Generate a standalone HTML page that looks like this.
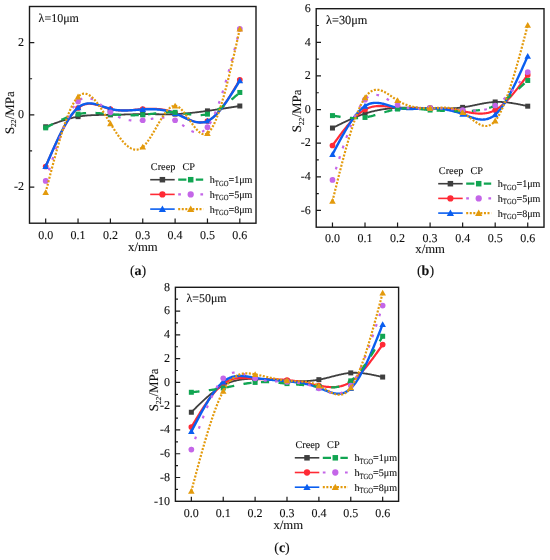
<!DOCTYPE html>
<html><head><meta charset="utf-8"><title>S22 stress plots</title>
<style>
html,body{margin:0;padding:0;background:#fff;}
body{width:550px;height:560px;overflow:hidden;}
svg{display:block;}
text{text-rendering:geometricPrecision;font-family:"Liberation Serif", "Times New Roman", serif;fill:#111;stroke:#111;stroke-width:0.1px;}
.tl{font-size:12px;}
.al{font-size:12.7px;}
.sub{font-size:7.6px;}
.yl{font-size:12.9px;}
.lg{font-size:10.3px;}
.lsub{font-size:7.9px;}
.lg2{font-size:10.1px;}
.cap{font-size:14px;}
</style></head>
<body>
<svg width="550" height="560" viewBox="0 0 550 560">
<rect width="550" height="560" fill="#fff"/>
<clipPath id="clipa"><rect x="29.5" y="6.5" width="226.5" height="216.7"/></clipPath>
<g clip-path="url(#clipa)" fill="none" stroke-linejoin="round">
<polyline points="45.68,126.77 46.49,126.46 47.30,126.15 48.11,125.85 48.91,125.54 49.72,125.24 50.53,124.93 51.34,124.63 52.15,124.33 52.96,124.03 53.77,123.73 54.58,123.43 55.39,123.14 56.19,122.85 57.00,122.56 57.81,122.27 58.62,121.99 59.43,121.71 60.24,121.44 61.05,121.16 61.86,120.90 62.67,120.63 63.48,120.37 64.28,120.12 65.09,119.87 65.90,119.62 66.71,119.38 67.52,119.14 68.33,118.91 69.14,118.69 69.95,118.47 70.76,118.26 71.56,118.05 72.37,117.85 73.18,117.66 73.99,117.47 74.80,117.29 75.61,117.12 76.42,116.96 77.23,116.80 78.04,116.66 78.84,116.52 79.65,116.38 80.46,116.26 81.27,116.14 82.08,116.03 82.89,115.93 83.70,115.83 84.51,115.74 85.32,115.66 86.12,115.58 86.93,115.51 87.74,115.45 88.55,115.39 89.36,115.33 90.17,115.28 90.98,115.23 91.79,115.19 92.60,115.15 93.41,115.12 94.21,115.09 95.02,115.06 95.83,115.03 96.64,115.01 97.45,114.99 98.26,114.98 99.07,114.96 99.88,114.95 100.69,114.94 101.49,114.93 102.30,114.92 103.11,114.91 103.92,114.91 104.73,114.90 105.54,114.90 106.35,114.89 107.16,114.88 107.97,114.88 108.77,114.87 109.58,114.86 110.39,114.85 111.20,114.84 112.01,114.83 112.82,114.81 113.63,114.80 114.44,114.78 115.25,114.76 116.06,114.74 116.86,114.72 117.67,114.70 118.48,114.68 119.29,114.66 120.10,114.64 120.91,114.62 121.72,114.59 122.53,114.57 123.34,114.55 124.14,114.52 124.95,114.50 125.76,114.47 126.57,114.45 127.38,114.43 128.19,114.40 129.00,114.38 129.81,114.36 130.62,114.34 131.42,114.31 132.23,114.29 133.04,114.27 133.85,114.25 134.66,114.24 135.47,114.22 136.28,114.20 137.09,114.19 137.90,114.18 138.71,114.16 139.51,114.15 140.32,114.14 141.13,114.14 141.94,114.13 142.75,114.13 143.56,114.13 144.37,114.13 145.18,114.13 145.99,114.13 146.79,114.13 147.60,114.14 148.41,114.15 149.22,114.15 150.03,114.16 150.84,114.17 151.65,114.18 152.46,114.19 153.27,114.20 154.07,114.21 154.88,114.22 155.69,114.23 156.50,114.24 157.31,114.25 158.12,114.26 158.93,114.27 159.74,114.28 160.55,114.29 161.36,114.30 162.16,114.30 162.97,114.31 163.78,114.31 164.59,114.31 165.40,114.31 166.21,114.31 167.02,114.30 167.83,114.30 168.64,114.29 169.44,114.28 170.25,114.26 171.06,114.25 171.87,114.23 172.68,114.21 173.49,114.19 174.30,114.16 175.11,114.13 175.92,114.09 176.72,114.06 177.53,114.02 178.34,113.97 179.15,113.93 179.96,113.88 180.77,113.83 181.58,113.77 182.39,113.71 183.20,113.65 184.01,113.59 184.81,113.52 185.62,113.45 186.43,113.38 187.24,113.31 188.05,113.23 188.86,113.15 189.67,113.07 190.48,112.99 191.29,112.91 192.09,112.82 192.90,112.73 193.71,112.64 194.52,112.55 195.33,112.45 196.14,112.36 196.95,112.26 197.76,112.16 198.57,112.06 199.38,111.96 200.18,111.86 200.99,111.75 201.80,111.65 202.61,111.54 203.42,111.43 204.23,111.32 205.04,111.21 205.85,111.10 206.66,110.99 207.46,110.88 208.27,110.76 209.08,110.65 209.89,110.54 210.70,110.42 211.51,110.31 212.32,110.19 213.13,110.07 213.94,109.95 214.74,109.84 215.55,109.72 216.36,109.60 217.17,109.48 217.98,109.36 218.79,109.24 219.60,109.12 220.41,109.00 221.22,108.88 222.03,108.75 222.83,108.63 223.64,108.51 224.45,108.38 225.26,108.26 226.07,108.14 226.88,108.01 227.69,107.89 228.50,107.76 229.31,107.64 230.11,107.51 230.92,107.39 231.73,107.26 232.54,107.14 233.35,107.01 234.16,106.89 234.97,106.76 235.78,106.63 236.59,106.51 237.39,106.38 238.20,106.25 239.01,106.13 239.82,106.00" stroke="#3f3f3f" stroke-width="1.8"/>
<rect x="43.18" y="124.27" width="5.00" height="5.00" fill="#3f3f3f"/>
<rect x="75.54" y="114.16" width="5.00" height="5.00" fill="#3f3f3f"/>
<rect x="107.89" y="112.35" width="5.00" height="5.00" fill="#3f3f3f"/>
<rect x="140.25" y="111.63" width="5.00" height="5.00" fill="#3f3f3f"/>
<rect x="172.61" y="111.63" width="5.00" height="5.00" fill="#3f3f3f"/>
<rect x="204.96" y="108.38" width="5.00" height="5.00" fill="#3f3f3f"/>
<rect x="237.32" y="103.50" width="5.00" height="5.00" fill="#3f3f3f"/>
<polyline points="45.68,166.50 46.49,164.63 47.30,162.77 48.11,160.91 48.91,159.06 49.72,157.21 50.53,155.37 51.34,153.54 52.15,151.72 52.96,149.91 53.77,148.11 54.58,146.33 55.39,144.57 56.19,142.82 57.00,141.09 57.81,139.39 58.62,137.70 59.43,136.05 60.24,134.41 61.05,132.81 61.86,131.23 62.67,129.68 63.48,128.16 64.28,126.68 65.09,125.23 65.90,123.82 66.71,122.45 67.52,121.11 68.33,119.81 69.14,118.56 69.95,117.35 70.76,116.19 71.56,115.07 72.37,114.00 73.18,112.98 73.99,112.01 74.80,111.10 75.61,110.23 76.42,109.43 77.23,108.68 78.04,107.99 78.84,107.36 79.65,106.78 80.46,106.27 81.27,105.81 82.08,105.40 82.89,105.04 83.70,104.73 84.51,104.46 85.32,104.24 86.12,104.07 86.93,103.93 87.74,103.83 88.55,103.77 89.36,103.75 90.17,103.76 90.98,103.80 91.79,103.86 92.60,103.96 93.41,104.08 94.21,104.23 95.02,104.39 95.83,104.58 96.64,104.78 97.45,105.00 98.26,105.23 99.07,105.48 99.88,105.73 100.69,106.00 101.49,106.27 102.30,106.54 103.11,106.81 103.92,107.09 104.73,107.36 105.54,107.63 106.35,107.90 107.16,108.16 107.97,108.40 108.77,108.64 109.58,108.86 110.39,109.07 111.20,109.26 112.01,109.44 112.82,109.60 113.63,109.74 114.44,109.87 115.25,109.98 116.06,110.08 116.86,110.17 117.67,110.24 118.48,110.30 119.29,110.35 120.10,110.39 120.91,110.42 121.72,110.44 122.53,110.45 123.34,110.45 124.14,110.44 124.95,110.42 125.76,110.39 126.57,110.36 127.38,110.32 128.19,110.28 129.00,110.23 129.81,110.17 130.62,110.11 131.42,110.05 132.23,109.98 133.04,109.92 133.85,109.84 134.66,109.77 135.47,109.70 136.28,109.62 137.09,109.55 137.90,109.47 138.71,109.40 139.51,109.33 140.32,109.26 141.13,109.19 141.94,109.13 142.75,109.07 143.56,109.02 144.37,108.96 145.18,108.92 145.99,108.88 146.79,108.84 147.60,108.81 148.41,108.79 149.22,108.77 150.03,108.76 150.84,108.75 151.65,108.75 152.46,108.76 153.27,108.78 154.07,108.80 154.88,108.83 155.69,108.87 156.50,108.92 157.31,108.98 158.12,109.05 158.93,109.12 159.74,109.21 160.55,109.31 161.36,109.41 162.16,109.53 162.97,109.66 163.78,109.79 164.59,109.94 165.40,110.11 166.21,110.28 167.02,110.46 167.83,110.66 168.64,110.87 169.44,111.10 170.25,111.33 171.06,111.58 171.87,111.85 172.68,112.12 173.49,112.42 174.30,112.72 175.11,113.04 175.92,113.38 176.72,113.73 177.53,114.09 178.34,114.46 179.15,114.85 179.96,115.23 180.77,115.63 181.58,116.02 182.39,116.42 183.20,116.82 184.01,117.22 184.81,117.62 185.62,118.01 186.43,118.39 187.24,118.77 188.05,119.14 188.86,119.50 189.67,119.84 190.48,120.17 191.29,120.49 192.09,120.79 192.90,121.06 193.71,121.32 194.52,121.56 195.33,121.77 196.14,121.96 196.95,122.12 197.76,122.25 198.57,122.35 199.38,122.42 200.18,122.45 200.99,122.45 201.80,122.42 202.61,122.34 203.42,122.23 204.23,122.07 205.04,121.87 205.85,121.62 206.66,121.33 207.46,120.99 208.27,120.60 209.08,120.16 209.89,119.68 210.70,119.14 211.51,118.57 212.32,117.95 213.13,117.29 213.94,116.58 214.74,115.84 215.55,115.06 216.36,114.24 217.17,113.38 217.98,112.49 218.79,111.57 219.60,110.61 220.41,109.62 221.22,108.61 222.03,107.56 222.83,106.49 223.64,105.39 224.45,104.26 225.26,103.11 226.07,101.94 226.88,100.75 227.69,99.54 228.50,98.31 229.31,97.06 230.11,95.80 230.92,94.52 231.73,93.22 232.54,91.92 233.35,90.60 234.16,89.28 234.97,87.94 235.78,86.60 236.59,85.25 237.39,83.90 238.20,82.54 239.01,81.18 239.82,79.82" stroke="#ff2a35" stroke-width="2.2"/>
<circle cx="45.68" cy="166.50" r="2.85" fill="#ff2a35"/>
<circle cx="78.04" cy="107.99" r="2.85" fill="#ff2a35"/>
<circle cx="110.39" cy="109.07" r="2.85" fill="#ff2a35"/>
<circle cx="142.75" cy="109.07" r="2.85" fill="#ff2a35"/>
<circle cx="175.11" cy="113.04" r="2.85" fill="#ff2a35"/>
<circle cx="207.46" cy="120.99" r="2.85" fill="#ff2a35"/>
<circle cx="239.82" cy="79.82" r="2.85" fill="#ff2a35"/>
<polyline points="45.68,166.50 46.49,164.62 47.30,162.75 48.11,160.88 48.91,159.01 49.72,157.15 50.53,155.30 51.34,153.45 52.15,151.62 52.96,149.80 53.77,147.99 54.58,146.20 55.39,144.43 56.19,142.67 57.00,140.93 57.81,139.22 58.62,137.52 59.43,135.85 60.24,134.21 61.05,132.59 61.86,131.01 62.67,129.45 63.48,127.92 64.28,126.43 65.09,124.97 65.90,123.55 66.71,122.17 67.52,120.82 68.33,119.52 69.14,118.26 69.95,117.04 70.76,115.87 71.56,114.75 72.37,113.67 73.18,112.65 73.99,111.67 74.80,110.75 75.61,109.89 76.42,109.07 77.23,108.32 78.04,107.63 78.84,106.99 79.65,106.42 80.46,105.90 81.27,105.43 82.08,105.02 82.89,104.66 83.70,104.35 84.51,104.09 85.32,103.87 86.12,103.69 86.93,103.56 87.74,103.46 88.55,103.40 89.36,103.38 90.17,103.39 90.98,103.43 91.79,103.50 92.60,103.60 93.41,103.73 94.21,103.88 95.02,104.05 95.83,104.24 96.64,104.45 97.45,104.67 98.26,104.91 99.07,105.17 99.88,105.43 100.69,105.70 101.49,105.97 102.30,106.26 103.11,106.54 103.92,106.82 104.73,107.11 105.54,107.39 106.35,107.66 107.16,107.93 107.97,108.19 108.77,108.44 109.58,108.67 110.39,108.89 111.20,109.09 112.01,109.28 112.82,109.45 113.63,109.61 114.44,109.75 115.25,109.88 116.06,109.99 116.86,110.09 117.67,110.18 118.48,110.26 119.29,110.32 120.10,110.38 120.91,110.42 121.72,110.45 122.53,110.47 123.34,110.49 124.14,110.49 124.95,110.49 125.76,110.48 126.57,110.46 127.38,110.44 128.19,110.41 129.00,110.37 129.81,110.33 130.62,110.29 131.42,110.24 132.23,110.19 133.04,110.13 133.85,110.08 134.66,110.02 135.47,109.96 136.28,109.89 137.09,109.83 137.90,109.77 138.71,109.71 139.51,109.65 140.32,109.59 141.13,109.54 141.94,109.48 142.75,109.43 143.56,109.39 144.37,109.34 145.18,109.31 145.99,109.27 146.79,109.24 147.60,109.22 148.41,109.20 149.22,109.19 150.03,109.18 150.84,109.18 151.65,109.19 152.46,109.20 153.27,109.22 154.07,109.25 154.88,109.28 155.69,109.33 156.50,109.38 157.31,109.44 158.12,109.51 158.93,109.58 159.74,109.67 160.55,109.76 161.36,109.87 162.16,109.98 162.97,110.11 163.78,110.24 164.59,110.39 165.40,110.55 166.21,110.72 167.02,110.90 167.83,111.09 168.64,111.30 169.44,111.51 170.25,111.74 171.06,111.99 171.87,112.24 172.68,112.51 173.49,112.80 174.30,113.09 175.11,113.41 175.92,113.73 176.72,114.07 177.53,114.42 178.34,114.78 179.15,115.15 179.96,115.53 180.77,115.91 181.58,116.29 182.39,116.68 183.20,117.07 184.01,117.45 184.81,117.83 185.62,118.21 186.43,118.58 187.24,118.95 188.05,119.30 188.86,119.65 189.67,119.98 190.48,120.30 191.29,120.60 192.09,120.89 192.90,121.16 193.71,121.41 194.52,121.63 195.33,121.83 196.14,122.01 196.95,122.16 197.76,122.29 198.57,122.38 199.38,122.44 200.18,122.47 200.99,122.46 201.80,122.42 202.61,122.34 203.42,122.22 204.23,122.07 205.04,121.86 205.85,121.62 206.66,121.33 207.46,120.99 208.27,120.60 209.08,120.17 209.89,119.69 210.70,119.16 211.51,118.60 212.32,117.98 213.13,117.33 213.94,116.64 214.74,115.91 215.55,115.14 216.36,114.33 217.17,113.49 217.98,112.61 218.79,111.71 219.60,110.77 220.41,109.80 221.22,108.80 222.03,107.77 222.83,106.71 223.64,105.63 224.45,104.53 225.26,103.40 226.07,102.25 226.88,101.08 227.69,99.89 228.50,98.68 229.31,97.46 230.11,96.22 230.92,94.96 231.73,93.69 232.54,92.41 233.35,91.12 234.16,89.82 234.97,88.51 235.78,87.19 236.59,85.87 237.39,84.54 238.20,83.21 239.01,81.87 239.82,80.54" stroke="#0a5ef0" stroke-width="2.4"/>
<polygon points="45.68,163.31 48.98,169.11 42.38,169.11" fill="#0a5ef0"/>
<polygon points="78.04,104.44 81.34,110.24 74.74,110.24" fill="#0a5ef0"/>
<polygon points="110.39,105.70 113.69,111.50 107.09,111.50" fill="#0a5ef0"/>
<polygon points="142.75,106.24 146.05,112.04 139.45,112.04" fill="#0a5ef0"/>
<polygon points="175.11,110.22 178.41,116.02 171.81,116.02" fill="#0a5ef0"/>
<polygon points="207.46,117.80 210.76,123.60 204.16,123.60" fill="#0a5ef0"/>
<polygon points="239.82,77.35 243.12,83.15 236.52,83.15" fill="#0a5ef0"/>
<polyline points="45.68,127.85 46.49,127.42 47.30,126.99 48.11,126.56 48.91,126.13 49.72,125.70 50.53,125.28 51.34,124.85 52.15,124.43 52.96,124.01 53.77,123.60 54.58,123.19 55.39,122.78 56.19,122.37 57.00,121.97 57.81,121.57 58.62,121.18 59.43,120.80 60.24,120.42 61.05,120.04 61.86,119.67 62.67,119.31 63.48,118.96 64.28,118.61 65.09,118.27 65.90,117.94 66.71,117.61 67.52,117.30 68.33,116.99 69.14,116.69 69.95,116.41 70.76,116.13 71.56,115.86 72.37,115.60 73.18,115.36 73.99,115.12 74.80,114.90 75.61,114.69 76.42,114.49 77.23,114.30 78.04,114.13 78.84,113.97 79.65,113.82 80.46,113.68 81.27,113.56 82.08,113.45 82.89,113.35 83.70,113.26 84.51,113.18 85.32,113.11 86.12,113.05 86.93,113.00 87.74,112.96 88.55,112.93 89.36,112.91 90.17,112.89 90.98,112.89 91.79,112.89 92.60,112.90 93.41,112.91 94.21,112.93 95.02,112.96 95.83,112.99 96.64,113.03 97.45,113.07 98.26,113.12 99.07,113.17 99.88,113.22 100.69,113.28 101.49,113.34 102.30,113.41 103.11,113.48 103.92,113.55 104.73,113.62 105.54,113.69 106.35,113.76 107.16,113.83 107.97,113.91 108.77,113.98 109.58,114.06 110.39,114.13 111.20,114.20 112.01,114.27 112.82,114.34 113.63,114.40 114.44,114.47 115.25,114.53 116.06,114.59 116.86,114.65 117.67,114.71 118.48,114.77 119.29,114.82 120.10,114.87 120.91,114.92 121.72,114.97 122.53,115.01 123.34,115.05 124.14,115.08 124.95,115.12 125.76,115.15 126.57,115.18 127.38,115.20 128.19,115.22 129.00,115.24 129.81,115.25 130.62,115.26 131.42,115.26 132.23,115.26 133.04,115.26 133.85,115.25 134.66,115.24 135.47,115.22 136.28,115.20 137.09,115.18 137.90,115.15 138.71,115.11 139.51,115.07 140.32,115.02 141.13,114.97 141.94,114.91 142.75,114.85 143.56,114.78 144.37,114.71 145.18,114.63 145.99,114.55 146.79,114.46 147.60,114.37 148.41,114.28 149.22,114.18 150.03,114.08 150.84,113.98 151.65,113.88 152.46,113.78 153.27,113.68 154.07,113.57 154.88,113.47 155.69,113.37 156.50,113.27 157.31,113.17 158.12,113.08 158.93,112.98 159.74,112.89 160.55,112.80 161.36,112.72 162.16,112.64 162.97,112.57 163.78,112.50 164.59,112.44 165.40,112.38 166.21,112.33 167.02,112.28 167.83,112.25 168.64,112.22 169.44,112.20 170.25,112.19 171.06,112.18 171.87,112.19 172.68,112.21 173.49,112.23 174.30,112.27 175.11,112.32 175.92,112.38 176.72,112.45 177.53,112.54 178.34,112.63 179.15,112.73 179.96,112.83 180.77,112.94 181.58,113.06 182.39,113.18 183.20,113.31 184.01,113.43 184.81,113.56 185.62,113.69 186.43,113.82 187.24,113.95 188.05,114.08 188.86,114.20 189.67,114.32 190.48,114.44 191.29,114.55 192.09,114.65 192.90,114.74 193.71,114.83 194.52,114.91 195.33,114.98 196.14,115.03 196.95,115.08 197.76,115.11 198.57,115.12 199.38,115.13 200.18,115.11 200.99,115.08 201.80,115.03 202.61,114.97 203.42,114.88 204.23,114.77 205.04,114.65 205.85,114.50 206.66,114.32 207.46,114.13 208.27,113.91 209.08,113.66 209.89,113.39 210.70,113.10 211.51,112.78 212.32,112.45 213.13,112.09 213.94,111.71 214.74,111.31 215.55,110.89 216.36,110.46 217.17,110.00 217.98,109.53 218.79,109.04 219.60,108.53 220.41,108.01 221.22,107.48 222.03,106.93 222.83,106.36 223.64,105.79 224.45,105.20 225.26,104.60 226.07,103.98 226.88,103.36 227.69,102.73 228.50,102.08 229.31,101.43 230.11,100.77 230.92,100.11 231.73,99.43 232.54,98.75 233.35,98.07 234.16,97.38 234.97,96.68 235.78,95.98 236.59,95.28 237.39,94.58 238.20,93.87 239.01,93.17 239.82,92.46" stroke="#11a552" stroke-width="2.3" stroke-dasharray="8.2 9.4"/>
<rect x="43.18" y="125.35" width="5.00" height="5.00" fill="#11a552"/>
<rect x="75.54" y="111.63" width="5.00" height="5.00" fill="#11a552"/>
<rect x="107.89" y="111.63" width="5.00" height="5.00" fill="#11a552"/>
<rect x="140.25" y="112.35" width="5.00" height="5.00" fill="#11a552"/>
<rect x="172.61" y="109.82" width="5.00" height="5.00" fill="#11a552"/>
<rect x="204.96" y="111.63" width="5.00" height="5.00" fill="#11a552"/>
<rect x="237.32" y="89.96" width="5.00" height="5.00" fill="#11a552"/>
<polyline points="45.68,180.94 46.49,178.36 47.30,175.77 48.11,173.19 48.91,170.61 49.72,168.05 50.53,165.49 51.34,162.95 52.15,160.43 52.96,157.92 53.77,155.44 54.58,152.97 55.39,150.53 56.19,148.12 57.00,145.74 57.81,143.39 58.62,141.07 59.43,138.79 60.24,136.55 61.05,134.34 61.86,132.19 62.67,130.07 63.48,128.01 64.28,125.99 65.09,124.02 65.90,122.11 66.71,120.26 67.52,118.46 68.33,116.73 69.14,115.06 69.95,113.45 70.76,111.91 71.56,110.44 72.37,109.05 73.18,107.73 73.99,106.48 74.80,105.32 75.61,104.23 76.42,103.23 77.23,102.31 78.04,101.49 78.84,100.75 79.65,100.10 80.46,99.53 81.27,99.05 82.08,98.64 82.89,98.32 83.70,98.06 84.51,97.88 85.32,97.76 86.12,97.71 86.93,97.72 87.74,97.79 88.55,97.91 89.36,98.09 90.17,98.32 90.98,98.60 91.79,98.92 92.60,99.29 93.41,99.69 94.21,100.13 95.02,100.61 95.83,101.11 96.64,101.65 97.45,102.21 98.26,102.79 99.07,103.39 99.88,104.01 100.69,104.65 101.49,105.29 102.30,105.95 103.11,106.60 103.92,107.27 104.73,107.93 105.54,108.59 106.35,109.24 107.16,109.88 107.97,110.52 108.77,111.14 109.58,111.74 110.39,112.32 111.20,112.88 112.01,113.42 112.82,113.94 113.63,114.43 114.44,114.90 115.25,115.36 116.06,115.79 116.86,116.20 117.67,116.59 118.48,116.96 119.29,117.31 120.10,117.64 120.91,117.95 121.72,118.25 122.53,118.52 123.34,118.78 124.14,119.02 124.95,119.24 125.76,119.45 126.57,119.63 127.38,119.80 128.19,119.96 129.00,120.10 129.81,120.22 130.62,120.33 131.42,120.42 132.23,120.49 133.04,120.56 133.85,120.60 134.66,120.64 135.47,120.66 136.28,120.66 137.09,120.66 137.90,120.64 138.71,120.61 139.51,120.56 140.32,120.51 141.13,120.44 141.94,120.36 142.75,120.27 143.56,120.17 144.37,120.06 145.18,119.94 145.99,119.81 146.79,119.68 147.60,119.54 148.41,119.40 149.22,119.25 150.03,119.11 150.84,118.96 151.65,118.82 152.46,118.67 153.27,118.53 154.07,118.40 154.88,118.27 155.69,118.15 156.50,118.03 157.31,117.93 158.12,117.83 158.93,117.75 159.74,117.67 160.55,117.62 161.36,117.57 162.16,117.55 162.97,117.54 163.78,117.55 164.59,117.58 165.40,117.63 166.21,117.70 167.02,117.79 167.83,117.91 168.64,118.05 169.44,118.23 170.25,118.42 171.06,118.65 171.87,118.91 172.68,119.20 173.49,119.52 174.30,119.88 175.11,120.27 175.92,120.69 176.72,121.15 177.53,121.64 178.34,122.15 179.15,122.68 179.96,123.24 180.77,123.80 181.58,124.38 182.39,124.96 183.20,125.55 184.01,126.14 184.81,126.73 185.62,127.30 186.43,127.87 187.24,128.42 188.05,128.96 188.86,129.47 189.67,129.96 190.48,130.42 191.29,130.85 192.09,131.24 192.90,131.60 193.71,131.91 194.52,132.17 195.33,132.38 196.14,132.54 196.95,132.64 197.76,132.69 198.57,132.66 199.38,132.57 200.18,132.41 200.99,132.17 201.80,131.86 202.61,131.46 203.42,130.97 204.23,130.40 205.04,129.73 205.85,128.96 206.66,128.10 207.46,127.13 208.27,126.05 209.08,124.87 209.89,123.59 210.70,122.21 211.51,120.73 212.32,119.16 213.13,117.49 213.94,115.74 214.74,113.90 215.55,111.98 216.36,109.98 217.17,107.90 217.98,105.74 218.79,103.51 219.60,101.21 220.41,98.85 221.22,96.42 222.03,93.92 222.83,91.37 223.64,88.76 224.45,86.10 225.26,83.39 226.07,80.63 226.88,77.82 227.69,74.97 228.50,72.08 229.31,69.15 230.11,66.19 230.92,63.20 231.73,60.17 232.54,57.12 233.35,54.05 234.16,50.95 234.97,47.83 235.78,44.70 236.59,41.56 237.39,38.40 238.20,35.23 239.01,32.06 239.82,28.89" stroke="#c466e8" stroke-width="2.2" stroke-dasharray="2.7 8.4"/>
<circle cx="45.68" cy="180.94" r="2.85" fill="#c466e8"/>
<circle cx="78.04" cy="101.49" r="2.85" fill="#c466e8"/>
<circle cx="110.39" cy="112.32" r="2.85" fill="#c466e8"/>
<circle cx="142.75" cy="120.27" r="2.85" fill="#c466e8"/>
<circle cx="175.11" cy="120.27" r="2.85" fill="#c466e8"/>
<circle cx="207.46" cy="127.13" r="2.85" fill="#c466e8"/>
<circle cx="239.82" cy="28.89" r="2.85" fill="#c466e8"/>
<polyline points="45.68,192.50 46.49,189.33 47.30,186.16 48.11,182.99 48.91,179.83 49.72,176.69 50.53,173.56 51.34,170.45 52.15,167.35 52.96,164.29 53.77,161.24 54.58,158.23 55.39,155.25 56.19,152.30 57.00,149.40 57.81,146.53 58.62,143.71 59.43,140.93 60.24,138.21 61.05,135.53 61.86,132.92 62.67,130.36 63.48,127.86 64.28,125.43 65.09,123.07 65.90,120.77 66.71,118.55 67.52,116.40 68.33,114.34 69.14,112.36 69.95,110.46 70.76,108.65 71.56,106.93 72.37,105.30 73.18,103.77 73.99,102.34 74.80,101.01 75.61,99.79 76.42,98.68 77.23,97.68 78.04,96.79 78.84,96.02 79.65,95.36 80.46,94.82 81.27,94.38 82.08,94.05 82.89,93.81 83.70,93.68 84.51,93.64 85.32,93.69 86.12,93.84 86.93,94.06 87.74,94.37 88.55,94.76 89.36,95.22 90.17,95.76 90.98,96.37 91.79,97.04 92.60,97.78 93.41,98.57 94.21,99.43 95.02,100.33 95.83,101.29 96.64,102.29 97.45,103.34 98.26,104.43 99.07,105.56 99.88,106.72 100.69,107.91 101.49,109.14 102.30,110.38 103.11,111.65 103.92,112.94 104.73,114.24 105.54,115.55 106.35,116.88 107.16,118.21 107.97,119.54 108.77,120.87 109.58,122.20 110.39,123.52 111.20,124.83 112.01,126.13 112.82,127.41 113.63,128.68 114.44,129.94 115.25,131.17 116.06,132.38 116.86,133.56 117.67,134.72 118.48,135.85 119.29,136.96 120.10,138.03 120.91,139.06 121.72,140.06 122.53,141.03 123.34,141.95 124.14,142.83 124.95,143.67 125.76,144.46 126.57,145.20 127.38,145.90 128.19,146.54 129.00,147.13 129.81,147.66 130.62,148.14 131.42,148.55 132.23,148.91 133.04,149.20 133.85,149.42 134.66,149.58 135.47,149.67 136.28,149.68 137.09,149.62 137.90,149.49 138.71,149.28 139.51,148.99 140.32,148.62 141.13,148.16 141.94,147.62 142.75,146.99 143.56,146.28 144.37,145.48 145.18,144.60 145.99,143.64 146.79,142.62 147.60,141.54 148.41,140.40 149.22,139.21 150.03,137.97 150.84,136.69 151.65,135.37 152.46,134.03 153.27,132.66 154.07,131.27 154.88,129.86 155.69,128.45 156.50,127.03 157.31,125.61 158.12,124.21 158.93,122.81 159.74,121.43 160.55,120.08 161.36,118.75 162.16,117.46 162.97,116.21 163.78,115.00 164.59,113.85 165.40,112.74 166.21,111.70 167.02,110.73 167.83,109.83 168.64,109.00 169.44,108.26 170.25,107.61 171.06,107.04 171.87,106.58 172.68,106.22 173.49,105.97 174.30,105.84 175.11,105.82 175.92,105.93 176.72,106.16 177.53,106.49 178.34,106.94 179.15,107.48 179.96,108.11 180.77,108.82 181.58,109.61 182.39,110.47 183.20,111.39 184.01,112.37 184.81,113.39 185.62,114.46 186.43,115.56 187.24,116.69 188.05,117.84 188.86,119.00 189.67,120.17 190.48,121.34 191.29,122.50 192.09,123.64 192.90,124.76 193.71,125.86 194.52,126.92 195.33,127.93 196.14,128.90 196.95,129.81 197.76,130.65 198.57,131.43 199.38,132.13 200.18,132.74 200.99,133.26 201.80,133.68 202.61,133.99 203.42,134.20 204.23,134.28 205.04,134.23 205.85,134.06 206.66,133.74 207.46,133.27 208.27,132.65 209.08,131.88 209.89,130.96 210.70,129.90 211.51,128.70 212.32,127.36 213.13,125.89 213.94,124.29 214.74,122.57 215.55,120.73 216.36,118.78 217.17,116.71 217.98,114.53 218.79,112.25 219.60,109.86 220.41,107.39 221.22,104.81 222.03,102.15 222.83,99.40 223.64,96.58 224.45,93.67 225.26,90.69 226.07,87.64 226.88,84.53 227.69,81.35 228.50,78.11 229.31,74.83 230.11,71.49 230.92,68.10 231.73,64.67 232.54,61.20 233.35,57.70 234.16,54.17 234.97,50.61 235.78,47.02 236.59,43.42 237.39,39.80 238.20,36.17 239.01,32.53 239.82,28.89" stroke="#e39a0c" stroke-width="2.2" stroke-dasharray="2 1.55"/>
<polygon points="45.68,189.31 48.98,195.11 42.38,195.11" fill="#e39a0c"/>
<polygon points="78.04,93.60 81.34,99.40 74.74,99.40" fill="#e39a0c"/>
<polygon points="110.39,120.33 113.69,126.13 107.09,126.13" fill="#e39a0c"/>
<polygon points="142.75,143.80 146.05,149.60 139.45,149.60" fill="#e39a0c"/>
<polygon points="175.11,102.63 178.41,108.43 171.81,108.43" fill="#e39a0c"/>
<polygon points="207.46,130.08 210.76,135.88 204.16,135.88" fill="#e39a0c"/>
<polygon points="239.82,25.70 243.12,31.50 236.52,31.50" fill="#e39a0c"/>
</g>
<rect x="29.5" y="6.5" width="226.5" height="216.7" fill="none" stroke="#1a1a1a" stroke-width="1.4"/>
<path d="M45.68,223.20v-4.6M78.04,223.20v-4.6M110.39,223.20v-4.6M142.75,223.20v-4.6M175.11,223.20v-4.6M207.46,223.20v-4.6M239.82,223.20v-4.6M29.50,187.08h4.8M29.50,114.85h4.8M29.50,42.62h4.8M29.50,150.97h2.6M29.50,78.73h2.6" stroke="#1a1a1a" stroke-width="1.2" fill="none"/>
<text x="45.68" y="239.10" text-anchor="middle" class="tl">0.0</text>
<text x="78.04" y="239.10" text-anchor="middle" class="tl">0.1</text>
<text x="110.39" y="239.10" text-anchor="middle" class="tl">0.2</text>
<text x="142.75" y="239.10" text-anchor="middle" class="tl">0.3</text>
<text x="175.11" y="239.10" text-anchor="middle" class="tl">0.4</text>
<text x="207.46" y="239.10" text-anchor="middle" class="tl">0.5</text>
<text x="239.82" y="239.10" text-anchor="middle" class="tl">0.6</text>
<text x="24.00" y="190.38" text-anchor="end" class="tl">-2</text>
<text x="24.00" y="118.15" text-anchor="end" class="tl">0</text>
<text x="24.00" y="45.92" text-anchor="end" class="tl">2</text>
<text x="142.90" y="251.20" text-anchor="middle" class="al">x/mm</text>
<text transform="translate(13.80,112.75) rotate(-90)" text-anchor="middle" class="yl">S<tspan class="sub" dy="2.6">22</tspan><tspan dy="-2.6">/MPa</tspan></text>
<text x="38.60" y="21.80" class="lam" font-size="12.0">λ=10μm</text>
<text x="150.80" y="170.30" class="lg">Creep</text>
<text x="182.50" y="170.30" class="lg">CP</text>
<line x1="150.20" y1="179.70" x2="174.70" y2="179.70" stroke="#3f3f3f" stroke-width="1.6"/>
<rect x="159.65" y="176.95" width="5.50" height="5.50" fill="#3f3f3f"/>
<line x1="178.20" y1="179.70" x2="203.20" y2="179.70" stroke="#11a552" stroke-width="2.3" stroke-dasharray="8.2 9.4"/>
<rect x="187.95" y="176.95" width="5.50" height="5.50" fill="#11a552"/>
<text x="209.80" y="183.10" class="lg2">h<tspan class="lsub" dy="2.6" textLength="13.6" lengthAdjust="spacingAndGlyphs">TGO</tspan><tspan dy="-2.6">=1μm</tspan></text>
<line x1="150.20" y1="194.40" x2="174.70" y2="194.40" stroke="#ff2a35" stroke-width="1.6"/>
<circle cx="162.40" cy="194.40" r="3.14" fill="#ff2a35"/>
<line x1="178.20" y1="194.40" x2="203.20" y2="194.40" stroke="#c466e8" stroke-width="2.2" stroke-dasharray="2.7 8.4"/>
<circle cx="190.70" cy="194.40" r="3.14" fill="#c466e8"/>
<text x="209.80" y="197.80" class="lg2">h<tspan class="lsub" dy="2.6" textLength="13.6" lengthAdjust="spacingAndGlyphs">TGO</tspan><tspan dy="-2.6">=5μm</tspan></text>
<line x1="150.20" y1="209.10" x2="174.70" y2="209.10" stroke="#0a5ef0" stroke-width="1.6"/>
<polygon points="162.40,205.59 166.03,211.97 158.77,211.97" fill="#0a5ef0"/>
<line x1="178.20" y1="209.10" x2="203.20" y2="209.10" stroke="#e39a0c" stroke-width="2.2" stroke-dasharray="2 1.55"/>
<polygon points="190.70,205.59 194.33,211.97 187.07,211.97" fill="#e39a0c"/>
<text x="209.80" y="212.50" class="lg2">h<tspan class="lsub" dy="2.6" textLength="13.6" lengthAdjust="spacingAndGlyphs">TGO</tspan><tspan dy="-2.6">=8μm</tspan></text>
<text x="138.10" y="274.60" text-anchor="middle" class="cap">(<tspan font-weight="bold">a</tspan>)</text>
<clipPath id="clipb"><rect x="316.2" y="8.7" width="227.8" height="218.5"/></clipPath>
<g clip-path="url(#clipb)" fill="none" stroke-linejoin="round">
<polyline points="332.47,128.03 333.28,127.63 334.10,127.22 334.91,126.81 335.73,126.40 336.54,125.99 337.35,125.58 338.17,125.18 338.98,124.77 339.79,124.37 340.61,123.97 341.42,123.57 342.23,123.17 343.05,122.78 343.86,122.39 344.68,122.00 345.49,121.61 346.30,121.22 347.12,120.84 347.93,120.46 348.74,120.09 349.56,119.72 350.37,119.35 351.18,118.98 352.00,118.62 352.81,118.27 353.62,117.92 354.44,117.57 355.25,117.23 356.06,116.89 356.88,116.56 357.69,116.24 358.51,115.92 359.32,115.60 360.13,115.30 360.95,114.99 361.76,114.70 362.57,114.41 363.39,114.12 364.20,113.85 365.01,113.58 365.83,113.32 366.64,113.06 367.45,112.82 368.27,112.58 369.08,112.34 369.90,112.11 370.71,111.89 371.52,111.68 372.34,111.47 373.15,111.27 373.96,111.08 374.78,110.89 375.59,110.71 376.40,110.53 377.22,110.36 378.03,110.20 378.84,110.04 379.66,109.89 380.47,109.75 381.29,109.61 382.10,109.47 382.91,109.34 383.73,109.22 384.54,109.10 385.35,108.99 386.17,108.88 386.98,108.78 387.79,108.68 388.61,108.58 389.42,108.50 390.24,108.41 391.05,108.33 391.86,108.26 392.68,108.19 393.49,108.13 394.30,108.07 395.12,108.01 395.93,107.96 396.74,107.91 397.56,107.87 398.37,107.83 399.18,107.79 400.00,107.76 400.81,107.73 401.62,107.70 402.44,107.68 403.25,107.66 404.07,107.65 404.88,107.64 405.69,107.63 406.51,107.62 407.32,107.62 408.13,107.62 408.95,107.62 409.76,107.62 410.57,107.63 411.39,107.64 412.20,107.65 413.01,107.66 413.83,107.68 414.64,107.69 415.46,107.71 416.27,107.73 417.08,107.75 417.90,107.77 418.71,107.80 419.52,107.82 420.34,107.85 421.15,107.88 421.96,107.90 422.78,107.93 423.59,107.96 424.40,107.99 425.22,108.02 426.03,108.05 426.85,108.08 427.66,108.11 428.47,108.14 429.29,108.17 430.10,108.20 430.91,108.23 431.73,108.26 432.54,108.29 433.35,108.32 434.17,108.34 434.98,108.37 435.79,108.39 436.61,108.41 437.42,108.43 438.24,108.45 439.05,108.47 439.86,108.48 440.68,108.50 441.49,108.51 442.30,108.51 443.12,108.52 443.93,108.52 444.74,108.52 445.56,108.51 446.37,108.50 447.18,108.49 448.00,108.48 448.81,108.46 449.63,108.43 450.44,108.40 451.25,108.37 452.07,108.33 452.88,108.29 453.69,108.24 454.51,108.19 455.32,108.14 456.13,108.07 456.95,108.01 457.76,107.93 458.57,107.85 459.39,107.77 460.20,107.68 461.02,107.58 461.83,107.47 462.64,107.36 463.46,107.24 464.27,107.12 465.08,106.99 465.90,106.85 466.71,106.71 467.52,106.57 468.34,106.42 469.15,106.26 469.96,106.11 470.78,105.95 471.59,105.78 472.41,105.62 473.22,105.45 474.03,105.29 474.85,105.12 475.66,104.95 476.47,104.78 477.29,104.62 478.10,104.45 478.91,104.29 479.73,104.12 480.54,103.96 481.36,103.81 482.17,103.65 482.98,103.50 483.80,103.35 484.61,103.21 485.42,103.08 486.24,102.94 487.05,102.82 487.86,102.70 488.68,102.59 489.49,102.48 490.30,102.38 491.12,102.29 491.93,102.21 492.75,102.14 493.56,102.08 494.37,102.03 495.19,101.98 496.00,101.95 496.81,101.93 497.63,101.92 498.44,101.92 499.25,101.92 500.07,101.94 500.88,101.97 501.69,102.00 502.51,102.05 503.32,102.10 504.13,102.16 504.95,102.23 505.76,102.30 506.58,102.38 507.39,102.47 508.20,102.57 509.02,102.67 509.83,102.78 510.64,102.89 511.46,103.01 512.27,103.14 513.08,103.27 513.90,103.41 514.71,103.55 515.52,103.69 516.34,103.84 517.15,103.99 517.97,104.15 518.78,104.30 519.59,104.47 520.41,104.63 521.22,104.80 522.03,104.97 522.85,105.14 523.66,105.31 524.47,105.48 525.29,105.66 526.10,105.83 526.91,106.01 527.73,106.18" stroke="#3f3f3f" stroke-width="1.8"/>
<rect x="329.97" y="125.53" width="5.00" height="5.00" fill="#3f3f3f"/>
<rect x="362.51" y="111.08" width="5.00" height="5.00" fill="#3f3f3f"/>
<rect x="395.06" y="105.37" width="5.00" height="5.00" fill="#3f3f3f"/>
<rect x="427.60" y="105.70" width="5.00" height="5.00" fill="#3f3f3f"/>
<rect x="460.14" y="104.86" width="5.00" height="5.00" fill="#3f3f3f"/>
<rect x="492.69" y="99.48" width="5.00" height="5.00" fill="#3f3f3f"/>
<rect x="525.23" y="103.68" width="5.00" height="5.00" fill="#3f3f3f"/>
<polyline points="332.47,145.51 333.28,144.39 334.10,143.26 334.91,142.14 335.73,141.02 336.54,139.90 337.35,138.79 338.17,137.68 338.98,136.58 339.79,135.48 340.61,134.40 341.42,133.32 342.23,132.25 343.05,131.19 343.86,130.14 344.68,129.10 345.49,128.08 346.30,127.07 347.12,126.07 347.93,125.09 348.74,124.13 349.56,123.18 350.37,122.25 351.18,121.34 352.00,120.45 352.81,119.58 353.62,118.73 354.44,117.90 355.25,117.10 356.06,116.32 356.88,115.56 357.69,114.83 358.51,114.13 359.32,113.45 360.13,112.80 360.95,112.18 361.76,111.59 362.57,111.03 363.39,110.50 364.20,110.01 365.01,109.55 365.83,109.12 366.64,108.72 367.45,108.36 368.27,108.02 369.08,107.72 369.90,107.45 370.71,107.20 371.52,106.98 372.34,106.79 373.15,106.62 373.96,106.47 374.78,106.35 375.59,106.25 376.40,106.17 377.22,106.11 378.03,106.06 378.84,106.04 379.66,106.03 380.47,106.03 381.29,106.05 382.10,106.09 382.91,106.13 383.73,106.19 384.54,106.26 385.35,106.33 386.17,106.42 386.98,106.51 387.79,106.61 388.61,106.71 389.42,106.82 390.24,106.93 391.05,107.04 391.86,107.15 392.68,107.26 393.49,107.37 394.30,107.48 395.12,107.58 395.93,107.68 396.74,107.78 397.56,107.87 398.37,107.95 399.18,108.02 400.00,108.09 400.81,108.15 401.62,108.20 402.44,108.25 403.25,108.29 404.07,108.33 404.88,108.36 405.69,108.38 406.51,108.40 407.32,108.42 408.13,108.43 408.95,108.44 409.76,108.45 410.57,108.45 411.39,108.45 412.20,108.44 413.01,108.44 413.83,108.43 414.64,108.42 415.46,108.40 416.27,108.39 417.08,108.37 417.90,108.36 418.71,108.34 419.52,108.32 420.34,108.31 421.15,108.29 421.96,108.27 422.78,108.26 423.59,108.24 424.40,108.23 425.22,108.22 426.03,108.21 426.85,108.20 427.66,108.20 428.47,108.20 429.29,108.20 430.10,108.20 430.91,108.21 431.73,108.22 432.54,108.24 433.35,108.25 434.17,108.28 434.98,108.30 435.79,108.33 436.61,108.36 437.42,108.40 438.24,108.44 439.05,108.48 439.86,108.53 440.68,108.58 441.49,108.63 442.30,108.69 443.12,108.75 443.93,108.81 444.74,108.88 445.56,108.95 446.37,109.02 447.18,109.10 448.00,109.18 448.81,109.27 449.63,109.36 450.44,109.45 451.25,109.54 452.07,109.64 452.88,109.74 453.69,109.85 454.51,109.96 455.32,110.07 456.13,110.18 456.95,110.30 457.76,110.42 458.57,110.55 459.39,110.68 460.20,110.81 461.02,110.95 461.83,111.08 462.64,111.23 463.46,111.37 464.27,111.52 465.08,111.67 465.90,111.82 466.71,111.97 467.52,112.12 468.34,112.26 469.15,112.41 469.96,112.55 470.78,112.68 471.59,112.81 472.41,112.93 473.22,113.05 474.03,113.16 474.85,113.25 475.66,113.34 476.47,113.42 477.29,113.48 478.10,113.53 478.91,113.57 479.73,113.59 480.54,113.60 481.36,113.59 482.17,113.57 482.98,113.52 483.80,113.46 484.61,113.37 485.42,113.27 486.24,113.14 487.05,112.99 487.86,112.82 488.68,112.62 489.49,112.40 490.30,112.15 491.12,111.87 491.93,111.57 492.75,111.24 493.56,110.87 494.37,110.48 495.19,110.05 496.00,109.59 496.81,109.10 497.63,108.58 498.44,108.03 499.25,107.45 500.07,106.84 500.88,106.20 501.69,105.53 502.51,104.84 503.32,104.13 504.13,103.39 504.95,102.62 505.76,101.83 506.58,101.03 507.39,100.19 508.20,99.34 509.02,98.47 509.83,97.58 510.64,96.68 511.46,95.75 512.27,94.81 513.08,93.86 513.90,92.88 514.71,91.90 515.52,90.90 516.34,89.89 517.15,88.87 517.97,87.84 518.78,86.80 519.59,85.75 520.41,84.69 521.22,83.62 522.03,82.55 522.85,81.47 523.66,80.39 524.47,79.30 525.29,78.21 526.10,77.11 526.91,76.02 527.73,74.92" stroke="#ff2a35" stroke-width="2.2"/>
<circle cx="332.47" cy="145.51" r="2.85" fill="#ff2a35"/>
<circle cx="365.01" cy="109.55" r="2.85" fill="#ff2a35"/>
<circle cx="397.56" cy="107.87" r="2.85" fill="#ff2a35"/>
<circle cx="430.10" cy="108.20" r="2.85" fill="#ff2a35"/>
<circle cx="462.64" cy="111.23" r="2.85" fill="#ff2a35"/>
<circle cx="495.19" cy="110.05" r="2.85" fill="#ff2a35"/>
<circle cx="527.73" cy="74.92" r="2.85" fill="#ff2a35"/>
<polyline points="332.47,154.42 333.28,152.87 334.10,151.32 334.91,149.78 335.73,148.23 336.54,146.69 337.35,145.16 338.17,143.64 338.98,142.12 339.79,140.62 340.61,139.13 341.42,137.65 342.23,136.18 343.05,134.73 343.86,133.29 344.68,131.88 345.49,130.48 346.30,129.10 347.12,127.75 347.93,126.42 348.74,125.11 349.56,123.82 350.37,122.57 351.18,121.34 352.00,120.14 352.81,118.98 353.62,117.84 354.44,116.74 355.25,115.67 356.06,114.64 356.88,113.64 357.69,112.69 358.51,111.77 359.32,110.90 360.13,110.06 360.95,109.27 361.76,108.53 362.57,107.83 363.39,107.17 364.20,106.57 365.01,106.02 365.83,105.51 366.64,105.06 367.45,104.65 368.27,104.29 369.08,103.98 369.90,103.71 370.71,103.47 371.52,103.28 372.34,103.13 373.15,103.01 373.96,102.92 374.78,102.87 375.59,102.85 376.40,102.86 377.22,102.90 378.03,102.96 378.84,103.04 379.66,103.15 380.47,103.28 381.29,103.43 382.10,103.60 382.91,103.78 383.73,103.98 384.54,104.19 385.35,104.41 386.17,104.64 386.98,104.87 387.79,105.12 388.61,105.36 389.42,105.61 390.24,105.86 391.05,106.11 391.86,106.36 392.68,106.60 393.49,106.83 394.30,107.06 395.12,107.28 395.93,107.49 396.74,107.68 397.56,107.87 398.37,108.03 399.18,108.18 400.00,108.32 400.81,108.44 401.62,108.54 402.44,108.64 403.25,108.72 404.07,108.79 404.88,108.85 405.69,108.89 406.51,108.93 407.32,108.96 408.13,108.98 408.95,108.99 409.76,108.99 410.57,108.98 411.39,108.97 412.20,108.95 413.01,108.93 413.83,108.90 414.64,108.87 415.46,108.83 416.27,108.79 417.08,108.75 417.90,108.71 418.71,108.66 419.52,108.61 420.34,108.57 421.15,108.52 421.96,108.48 422.78,108.43 423.59,108.39 424.40,108.35 425.22,108.32 426.03,108.28 426.85,108.26 427.66,108.23 428.47,108.22 429.29,108.21 430.10,108.20 430.91,108.20 431.73,108.22 432.54,108.23 433.35,108.26 434.17,108.29 434.98,108.33 435.79,108.38 436.61,108.43 437.42,108.50 438.24,108.57 439.05,108.64 439.86,108.73 440.68,108.82 441.49,108.92 442.30,109.02 443.12,109.14 443.93,109.26 444.74,109.39 445.56,109.52 446.37,109.67 447.18,109.82 448.00,109.98 448.81,110.14 449.63,110.31 450.44,110.49 451.25,110.68 452.07,110.88 452.88,111.08 453.69,111.29 454.51,111.51 455.32,111.73 456.13,111.96 456.95,112.20 457.76,112.45 458.57,112.70 459.39,112.96 460.20,113.23 461.02,113.51 461.83,113.79 462.64,114.08 463.46,114.38 464.27,114.69 465.08,114.99 465.90,115.31 466.71,115.62 467.52,115.93 468.34,116.24 469.15,116.54 469.96,116.84 470.78,117.13 471.59,117.42 472.41,117.69 473.22,117.95 474.03,118.20 474.85,118.43 475.66,118.65 476.47,118.85 477.29,119.02 478.10,119.18 478.91,119.31 479.73,119.42 480.54,119.50 481.36,119.55 482.17,119.58 482.98,119.57 483.80,119.53 484.61,119.45 485.42,119.34 486.24,119.19 487.05,119.00 487.86,118.77 488.68,118.50 489.49,118.18 490.30,117.82 491.12,117.41 491.93,116.95 492.75,116.44 493.56,115.88 494.37,115.26 495.19,114.59 496.00,113.86 496.81,113.08 497.63,112.24 498.44,111.35 499.25,110.40 500.07,109.41 500.88,108.37 501.69,107.28 502.51,106.15 503.32,104.97 504.13,103.75 504.95,102.48 505.76,101.18 506.58,99.84 507.39,98.46 508.20,97.05 509.02,95.60 509.83,94.12 510.64,92.60 511.46,91.06 512.27,89.49 513.08,87.89 513.90,86.26 514.71,84.62 515.52,82.94 516.34,81.25 517.15,79.54 517.97,77.81 518.78,76.06 519.59,74.29 520.41,72.51 521.22,70.72 522.03,68.92 522.85,67.11 523.66,65.28 524.47,63.46 525.29,61.62 526.10,59.78 526.91,57.94 527.73,56.10" stroke="#0a5ef0" stroke-width="2.4"/>
<polygon points="332.47,151.23 335.77,157.03 329.17,157.03" fill="#0a5ef0"/>
<polygon points="365.01,102.83 368.31,108.63 361.71,108.63" fill="#0a5ef0"/>
<polygon points="397.56,104.68 400.86,110.48 394.26,110.48" fill="#0a5ef0"/>
<polygon points="430.10,105.01 433.40,110.81 426.80,110.81" fill="#0a5ef0"/>
<polygon points="462.64,110.89 465.94,116.69 459.34,116.69" fill="#0a5ef0"/>
<polygon points="495.19,111.40 498.49,117.20 491.89,117.20" fill="#0a5ef0"/>
<polygon points="527.73,52.91 531.03,58.71 524.43,58.71" fill="#0a5ef0"/>
<polyline points="332.47,115.60 333.28,115.73 334.10,115.86 334.91,115.99 335.73,116.12 336.54,116.25 337.35,116.37 338.17,116.50 338.98,116.62 339.79,116.74 340.61,116.86 341.42,116.97 342.23,117.08 343.05,117.19 343.86,117.29 344.68,117.39 345.49,117.48 346.30,117.57 347.12,117.65 347.93,117.73 348.74,117.80 349.56,117.87 350.37,117.92 351.18,117.97 352.00,118.02 352.81,118.05 353.62,118.08 354.44,118.10 355.25,118.11 356.06,118.11 356.88,118.10 357.69,118.09 358.51,118.06 359.32,118.02 360.13,117.97 360.95,117.91 361.76,117.84 362.57,117.76 363.39,117.67 364.20,117.56 365.01,117.45 365.83,117.31 366.64,117.17 367.45,117.02 368.27,116.85 369.08,116.68 369.90,116.49 370.71,116.30 371.52,116.09 372.34,115.88 373.15,115.67 373.96,115.44 374.78,115.21 375.59,114.98 376.40,114.74 377.22,114.50 378.03,114.25 378.84,114.00 379.66,113.75 380.47,113.50 381.29,113.25 382.10,112.99 382.91,112.74 383.73,112.49 384.54,112.24 385.35,112.00 386.17,111.75 386.98,111.51 387.79,111.28 388.61,111.05 389.42,110.83 390.24,110.61 391.05,110.40 391.86,110.19 392.68,110.00 393.49,109.81 394.30,109.64 395.12,109.47 395.93,109.32 396.74,109.17 397.56,109.04 398.37,108.92 399.18,108.82 400.00,108.72 400.81,108.64 401.62,108.57 402.44,108.51 403.25,108.46 404.07,108.42 404.88,108.38 405.69,108.36 406.51,108.35 407.32,108.35 408.13,108.35 408.95,108.36 409.76,108.38 410.57,108.40 411.39,108.44 412.20,108.47 413.01,108.52 413.83,108.57 414.64,108.62 415.46,108.68 416.27,108.74 417.08,108.81 417.90,108.88 418.71,108.95 419.52,109.02 420.34,109.10 421.15,109.18 421.96,109.26 422.78,109.34 423.59,109.42 424.40,109.50 425.22,109.59 426.03,109.67 426.85,109.75 427.66,109.83 428.47,109.90 429.29,109.98 430.10,110.05 430.91,110.12 431.73,110.19 432.54,110.25 433.35,110.31 434.17,110.37 434.98,110.42 435.79,110.48 436.61,110.53 437.42,110.57 438.24,110.62 439.05,110.66 439.86,110.70 440.68,110.74 441.49,110.77 442.30,110.81 443.12,110.84 443.93,110.87 444.74,110.89 445.56,110.92 446.37,110.94 447.18,110.96 448.00,110.98 448.81,111.00 449.63,111.01 450.44,111.03 451.25,111.04 452.07,111.05 452.88,111.06 453.69,111.06 454.51,111.07 455.32,111.07 456.13,111.08 456.95,111.08 457.76,111.08 458.57,111.08 459.39,111.08 460.20,111.07 461.02,111.07 461.83,111.06 462.64,111.06 463.46,111.05 464.27,111.04 465.08,111.03 465.90,111.02 466.71,111.01 467.52,110.99 468.34,110.97 469.15,110.94 469.96,110.91 470.78,110.88 471.59,110.84 472.41,110.79 473.22,110.74 474.03,110.69 474.85,110.62 475.66,110.55 476.47,110.47 477.29,110.38 478.10,110.29 478.91,110.18 479.73,110.07 480.54,109.94 481.36,109.81 482.17,109.66 482.98,109.50 483.80,109.33 484.61,109.15 485.42,108.96 486.24,108.75 487.05,108.53 487.86,108.30 488.68,108.05 489.49,107.79 490.30,107.51 491.12,107.22 491.93,106.91 492.75,106.59 493.56,106.25 494.37,105.89 495.19,105.51 496.00,105.12 496.81,104.71 497.63,104.28 498.44,103.83 499.25,103.37 500.07,102.89 500.88,102.40 501.69,101.89 502.51,101.37 503.32,100.83 504.13,100.28 504.95,99.72 505.76,99.14 506.58,98.55 507.39,97.95 508.20,97.34 509.02,96.72 509.83,96.09 510.64,95.45 511.46,94.80 512.27,94.14 513.08,93.47 513.90,92.79 514.71,92.10 515.52,91.41 516.34,90.71 517.15,90.01 517.97,89.30 518.78,88.58 519.59,87.86 520.41,87.13 521.22,86.40 522.03,85.67 522.85,84.93 523.66,84.19 524.47,83.45 525.29,82.71 526.10,81.96 526.91,81.22 527.73,80.47" stroke="#11a552" stroke-width="2.3" stroke-dasharray="8.2 9.4"/>
<rect x="329.97" y="113.10" width="5.00" height="5.00" fill="#11a552"/>
<rect x="362.51" y="114.95" width="5.00" height="5.00" fill="#11a552"/>
<rect x="395.06" y="106.54" width="5.00" height="5.00" fill="#11a552"/>
<rect x="427.60" y="107.55" width="5.00" height="5.00" fill="#11a552"/>
<rect x="460.14" y="108.56" width="5.00" height="5.00" fill="#11a552"/>
<rect x="492.69" y="103.01" width="5.00" height="5.00" fill="#11a552"/>
<rect x="525.23" y="77.97" width="5.00" height="5.00" fill="#11a552"/>
<polyline points="332.47,179.97 333.28,177.38 334.10,174.80 334.91,172.22 335.73,169.65 336.54,167.09 337.35,164.53 338.17,161.99 338.98,159.47 339.79,156.96 340.61,154.47 341.42,152.01 342.23,149.56 343.05,147.15 343.86,144.76 344.68,142.40 345.49,140.07 346.30,137.78 347.12,135.53 347.93,133.31 348.74,131.14 349.56,129.01 350.37,126.92 351.18,124.89 352.00,122.90 352.81,120.96 353.62,119.08 354.44,117.25 355.25,115.49 356.06,113.78 356.88,112.14 357.69,110.56 358.51,109.05 359.32,107.60 360.13,106.23 360.95,104.94 361.76,103.71 362.57,102.57 363.39,101.51 364.20,100.53 365.01,99.63 365.83,98.82 366.64,98.09 367.45,97.45 368.27,96.88 369.08,96.39 369.90,95.97 370.71,95.62 371.52,95.33 372.34,95.11 373.15,94.96 373.96,94.86 374.78,94.82 375.59,94.83 376.40,94.89 377.22,95.00 378.03,95.15 378.84,95.35 379.66,95.58 380.47,95.85 381.29,96.16 382.10,96.49 382.91,96.85 383.73,97.24 384.54,97.65 385.35,98.09 386.17,98.53 386.98,98.99 387.79,99.47 388.61,99.95 389.42,100.44 390.24,100.93 391.05,101.42 391.86,101.90 392.68,102.39 393.49,102.86 394.30,103.32 395.12,103.77 395.93,104.20 396.74,104.62 397.56,105.01 398.37,105.37 399.18,105.72 400.00,106.04 400.81,106.33 401.62,106.61 402.44,106.86 403.25,107.09 404.07,107.30 404.88,107.50 405.69,107.67 406.51,107.83 407.32,107.97 408.13,108.10 408.95,108.21 409.76,108.30 410.57,108.38 411.39,108.45 412.20,108.51 413.01,108.56 413.83,108.59 414.64,108.62 415.46,108.63 416.27,108.64 417.08,108.64 417.90,108.63 418.71,108.62 419.52,108.60 420.34,108.58 421.15,108.55 421.96,108.52 422.78,108.48 423.59,108.45 424.40,108.41 425.22,108.38 426.03,108.34 426.85,108.31 427.66,108.28 428.47,108.25 429.29,108.22 430.10,108.20 430.91,108.19 431.73,108.17 432.54,108.17 433.35,108.17 434.17,108.17 434.98,108.18 435.79,108.19 436.61,108.21 437.42,108.23 438.24,108.25 439.05,108.28 439.86,108.31 440.68,108.34 441.49,108.38 442.30,108.42 443.12,108.46 443.93,108.51 444.74,108.56 445.56,108.61 446.37,108.67 447.18,108.72 448.00,108.78 448.81,108.84 449.63,108.91 450.44,108.97 451.25,109.04 452.07,109.10 452.88,109.17 453.69,109.24 454.51,109.31 455.32,109.39 456.13,109.46 456.95,109.53 457.76,109.61 458.57,109.68 459.39,109.75 460.20,109.83 461.02,109.90 461.83,109.98 462.64,110.05 463.46,110.12 464.27,110.20 465.08,110.27 465.90,110.33 466.71,110.40 467.52,110.46 468.34,110.51 469.15,110.56 469.96,110.61 470.78,110.65 471.59,110.68 472.41,110.70 473.22,110.72 474.03,110.72 474.85,110.72 475.66,110.71 476.47,110.68 477.29,110.64 478.10,110.59 478.91,110.53 479.73,110.45 480.54,110.36 481.36,110.26 482.17,110.14 482.98,110.00 483.80,109.84 484.61,109.67 485.42,109.48 486.24,109.27 487.05,109.04 487.86,108.79 488.68,108.52 489.49,108.23 490.30,107.91 491.12,107.57 491.93,107.21 492.75,106.82 493.56,106.41 494.37,105.98 495.19,105.51 496.00,105.02 496.81,104.51 497.63,103.96 498.44,103.40 499.25,102.81 500.07,102.19 500.88,101.55 501.69,100.89 502.51,100.21 503.32,99.51 504.13,98.79 504.95,98.05 505.76,97.28 506.58,96.51 507.39,95.71 508.20,94.90 509.02,94.07 509.83,93.22 510.64,92.36 511.46,91.49 512.27,90.60 513.08,89.70 513.90,88.78 514.71,87.86 515.52,86.93 516.34,85.98 517.15,85.03 517.97,84.06 518.78,83.09 519.59,82.11 520.41,81.13 521.22,80.14 522.03,79.14 522.85,78.14 523.66,77.13 524.47,76.12 525.29,75.11 526.10,74.10 526.91,73.08 527.73,72.06" stroke="#c466e8" stroke-width="2.2" stroke-dasharray="2.7 8.4"/>
<circle cx="332.47" cy="179.97" r="2.85" fill="#c466e8"/>
<circle cx="365.01" cy="99.63" r="2.85" fill="#c466e8"/>
<circle cx="397.56" cy="105.01" r="2.85" fill="#c466e8"/>
<circle cx="430.10" cy="108.20" r="2.85" fill="#c466e8"/>
<circle cx="462.64" cy="110.05" r="2.85" fill="#c466e8"/>
<circle cx="495.19" cy="105.51" r="2.85" fill="#c466e8"/>
<circle cx="527.73" cy="72.06" r="2.85" fill="#c466e8"/>
<polyline points="332.47,201.15 333.28,197.86 334.10,194.58 334.91,191.30 335.73,188.03 336.54,184.77 337.35,181.52 338.17,178.29 338.98,175.08 339.79,171.89 340.61,168.72 341.42,165.57 342.23,162.46 343.05,159.38 343.86,156.33 344.68,153.32 345.49,150.35 346.30,147.42 347.12,144.53 347.93,141.69 348.74,138.90 349.56,136.17 350.37,133.49 351.18,130.86 352.00,128.30 352.81,125.80 353.62,123.36 354.44,121.00 355.25,118.70 356.06,116.48 356.88,114.33 357.69,112.26 358.51,110.27 359.32,108.37 360.13,106.55 360.95,104.83 361.76,103.19 362.57,101.65 363.39,100.20 364.20,98.86 365.01,97.61 365.83,96.47 366.64,95.43 367.45,94.50 368.27,93.65 369.08,92.90 369.90,92.24 370.71,91.66 371.52,91.17 372.34,90.75 373.15,90.41 373.96,90.15 374.78,89.96 375.59,89.83 376.40,89.77 377.22,89.77 378.03,89.83 378.84,89.94 379.66,90.10 380.47,90.31 381.29,90.57 382.10,90.87 382.91,91.21 383.73,91.59 384.54,91.99 385.35,92.43 386.17,92.90 386.98,93.39 387.79,93.90 388.61,94.42 389.42,94.96 390.24,95.52 391.05,96.08 391.86,96.64 392.68,97.21 393.49,97.77 394.30,98.33 395.12,98.89 395.93,99.43 396.74,99.96 397.56,100.47 398.37,100.96 399.18,101.44 400.00,101.89 400.81,102.32 401.62,102.74 402.44,103.14 403.25,103.52 404.07,103.88 404.88,104.22 405.69,104.55 406.51,104.86 407.32,105.15 408.13,105.43 408.95,105.70 409.76,105.94 410.57,106.18 411.39,106.40 412.20,106.60 413.01,106.79 413.83,106.97 414.64,107.13 415.46,107.28 416.27,107.42 417.08,107.55 417.90,107.66 418.71,107.77 419.52,107.86 420.34,107.94 421.15,108.01 421.96,108.07 422.78,108.12 423.59,108.16 424.40,108.20 425.22,108.22 426.03,108.24 426.85,108.24 427.66,108.24 428.47,108.24 429.29,108.22 430.10,108.20 430.91,108.17 431.73,108.14 432.54,108.11 433.35,108.07 434.17,108.02 434.98,107.98 435.79,107.93 436.61,107.89 437.42,107.85 438.24,107.81 439.05,107.77 439.86,107.74 440.68,107.71 441.49,107.69 442.30,107.67 443.12,107.67 443.93,107.67 444.74,107.68 445.56,107.71 446.37,107.74 447.18,107.79 448.00,107.85 448.81,107.93 449.63,108.02 450.44,108.13 451.25,108.25 452.07,108.40 452.88,108.56 453.69,108.75 454.51,108.95 455.32,109.18 456.13,109.44 456.95,109.71 457.76,110.01 458.57,110.34 459.39,110.69 460.20,111.08 461.02,111.49 461.83,111.93 462.64,112.40 463.46,112.91 464.27,113.44 465.08,114.00 465.90,114.58 466.71,115.17 467.52,115.78 468.34,116.41 469.15,117.04 469.96,117.67 470.78,118.31 471.59,118.94 472.41,119.57 473.22,120.19 474.03,120.79 474.85,121.38 475.66,121.95 476.47,122.50 477.29,123.02 478.10,123.51 478.91,123.97 479.73,124.39 480.54,124.77 481.36,125.10 482.17,125.39 482.98,125.63 483.80,125.82 484.61,125.94 485.42,126.01 486.24,126.01 487.05,125.95 487.86,125.81 488.68,125.60 489.49,125.31 490.30,124.94 491.12,124.48 491.93,123.94 492.75,123.30 493.56,122.57 494.37,121.74 495.19,120.81 496.00,119.77 496.81,118.63 497.63,117.39 498.44,116.05 499.25,114.62 500.07,113.10 500.88,111.48 501.69,109.78 502.51,108.00 503.32,106.13 504.13,104.18 504.95,102.16 505.76,100.06 506.58,97.90 507.39,95.66 508.20,93.36 509.02,90.99 509.83,88.56 510.64,86.08 511.46,83.54 512.27,80.95 513.08,78.30 513.90,75.61 514.71,72.88 515.52,70.10 516.34,67.29 517.15,64.43 517.97,61.54 518.78,58.62 519.59,55.67 520.41,52.70 521.22,49.70 522.03,46.68 522.85,43.64 523.66,40.59 524.47,37.52 525.29,34.44 526.10,31.36 526.91,28.27 527.73,25.17" stroke="#e39a0c" stroke-width="2.2" stroke-dasharray="2 1.55"/>
<polygon points="332.47,197.96 335.77,203.76 329.17,203.76" fill="#e39a0c"/>
<polygon points="365.01,94.42 368.31,100.22 361.71,100.22" fill="#e39a0c"/>
<polygon points="397.56,97.28 400.86,103.08 394.26,103.08" fill="#e39a0c"/>
<polygon points="430.10,105.01 433.40,110.81 426.80,110.81" fill="#e39a0c"/>
<polygon points="462.64,109.21 465.94,115.01 459.34,115.01" fill="#e39a0c"/>
<polygon points="495.19,117.62 498.49,123.42 491.89,123.42" fill="#e39a0c"/>
<polygon points="527.73,21.98 531.03,27.78 524.43,27.78" fill="#e39a0c"/>
</g>
<rect x="316.2" y="8.7" width="227.8" height="218.5" fill="none" stroke="#1a1a1a" stroke-width="1.4"/>
<path d="M332.47,227.20v-4.6M365.01,227.20v-4.6M397.56,227.20v-4.6M430.10,227.20v-4.6M462.64,227.20v-4.6M495.19,227.20v-4.6M527.73,227.20v-4.6M316.20,210.39h4.8M316.20,176.78h4.8M316.20,143.16h4.8M316.20,109.55h4.8M316.20,75.93h4.8M316.20,42.32h4.8M316.20,193.58h2.6M316.20,159.97h2.6M316.20,126.35h2.6M316.20,92.74h2.6M316.20,59.12h2.6M316.20,25.51h2.6" stroke="#1a1a1a" stroke-width="1.2" fill="none"/>
<text x="332.47" y="242.30" text-anchor="middle" class="tl">0.0</text>
<text x="365.01" y="242.30" text-anchor="middle" class="tl">0.1</text>
<text x="397.56" y="242.30" text-anchor="middle" class="tl">0.2</text>
<text x="430.10" y="242.30" text-anchor="middle" class="tl">0.3</text>
<text x="462.64" y="242.30" text-anchor="middle" class="tl">0.4</text>
<text x="495.19" y="242.30" text-anchor="middle" class="tl">0.5</text>
<text x="527.73" y="242.30" text-anchor="middle" class="tl">0.6</text>
<text x="310.70" y="213.69" text-anchor="end" class="tl">-6</text>
<text x="310.70" y="180.08" text-anchor="end" class="tl">-4</text>
<text x="310.70" y="146.46" text-anchor="end" class="tl">-2</text>
<text x="310.70" y="112.85" text-anchor="end" class="tl">0</text>
<text x="310.70" y="79.23" text-anchor="end" class="tl">2</text>
<text x="310.70" y="45.62" text-anchor="end" class="tl">4</text>
<text x="310.70" y="12.00" text-anchor="end" class="tl">6</text>
<text x="430.10" y="252.80" text-anchor="middle" class="al">x/mm</text>
<text transform="translate(301.30,111.00) rotate(-90)" text-anchor="middle" class="yl">S<tspan class="sub" dy="2.6">22</tspan><tspan dy="-2.6">/MPa</tspan></text>
<text x="326.00" y="23.50" class="lam" font-size="12.3">λ=30μm</text>
<text x="438.80" y="174.30" class="lg">Creep</text>
<text x="470.50" y="174.30" class="lg">CP</text>
<line x1="438.20" y1="183.70" x2="462.70" y2="183.70" stroke="#3f3f3f" stroke-width="1.6"/>
<rect x="447.65" y="180.95" width="5.50" height="5.50" fill="#3f3f3f"/>
<line x1="466.20" y1="183.70" x2="491.20" y2="183.70" stroke="#11a552" stroke-width="2.3" stroke-dasharray="8.2 9.4"/>
<rect x="475.95" y="180.95" width="5.50" height="5.50" fill="#11a552"/>
<text x="497.80" y="187.10" class="lg2">h<tspan class="lsub" dy="2.6" textLength="13.6" lengthAdjust="spacingAndGlyphs">TGO</tspan><tspan dy="-2.6">=1μm</tspan></text>
<line x1="438.20" y1="198.40" x2="462.70" y2="198.40" stroke="#ff2a35" stroke-width="1.6"/>
<circle cx="450.40" cy="198.40" r="3.14" fill="#ff2a35"/>
<line x1="466.20" y1="198.40" x2="491.20" y2="198.40" stroke="#c466e8" stroke-width="2.2" stroke-dasharray="2.7 8.4"/>
<circle cx="478.70" cy="198.40" r="3.14" fill="#c466e8"/>
<text x="497.80" y="201.80" class="lg2">h<tspan class="lsub" dy="2.6" textLength="13.6" lengthAdjust="spacingAndGlyphs">TGO</tspan><tspan dy="-2.6">=5μm</tspan></text>
<line x1="438.20" y1="213.10" x2="462.70" y2="213.10" stroke="#0a5ef0" stroke-width="1.6"/>
<polygon points="450.40,209.59 454.03,215.97 446.77,215.97" fill="#0a5ef0"/>
<line x1="466.20" y1="213.10" x2="491.20" y2="213.10" stroke="#e39a0c" stroke-width="2.2" stroke-dasharray="2 1.55"/>
<polygon points="478.70,209.59 482.33,215.97 475.07,215.97" fill="#e39a0c"/>
<text x="497.80" y="216.50" class="lg2">h<tspan class="lsub" dy="2.6" textLength="13.6" lengthAdjust="spacingAndGlyphs">TGO</tspan><tspan dy="-2.6">=8μm</tspan></text>
<text x="425.50" y="274.60" text-anchor="middle" class="cap">(<tspan font-weight="bold">b</tspan>)</text>
<clipPath id="clipc"><rect x="175.4" y="287.3" width="223.20000000000002" height="214.0"/></clipPath>
<g clip-path="url(#clipc)" fill="none" stroke-linejoin="round">
<polyline points="191.34,412.25 192.14,411.46 192.94,410.67 193.73,409.88 194.53,409.09 195.33,408.30 196.13,407.51 196.92,406.73 197.72,405.95 198.52,405.18 199.31,404.40 200.11,403.64 200.91,402.87 201.71,402.12 202.50,401.37 203.30,400.62 204.10,399.88 204.89,399.15 205.69,398.43 206.49,397.71 207.29,397.01 208.08,396.31 208.88,395.62 209.68,394.94 210.47,394.28 211.27,393.62 212.07,392.98 212.87,392.34 213.66,391.72 214.46,391.11 215.26,390.52 216.05,389.93 216.85,389.37 217.65,388.81 218.45,388.27 219.24,387.75 220.04,387.24 220.84,386.75 221.63,386.28 222.43,385.82 223.23,385.38 224.03,384.96 224.82,384.56 225.62,384.17 226.42,383.80 227.21,383.45 228.01,383.11 228.81,382.79 229.61,382.49 230.40,382.20 231.20,381.93 232.00,381.67 232.79,381.42 233.59,381.19 234.39,380.97 235.19,380.76 235.98,380.57 236.78,380.39 237.58,380.22 238.37,380.07 239.17,379.92 239.97,379.79 240.77,379.66 241.56,379.55 242.36,379.45 243.16,379.35 243.95,379.27 244.75,379.19 245.55,379.12 246.35,379.06 247.14,379.01 247.94,378.97 248.74,378.93 249.53,378.90 250.33,378.88 251.13,378.86 251.93,378.85 252.72,378.84 253.52,378.84 254.32,378.84 255.11,378.84 255.91,378.85 256.71,378.87 257.51,378.89 258.30,378.91 259.10,378.93 259.90,378.96 260.69,378.99 261.49,379.02 262.29,379.06 263.09,379.09 263.88,379.14 264.68,379.18 265.48,379.22 266.27,379.27 267.07,379.32 267.87,379.37 268.67,379.42 269.46,379.48 270.26,379.53 271.06,379.59 271.85,379.65 272.65,379.70 273.45,379.76 274.25,379.82 275.04,379.88 275.84,379.94 276.64,380.00 277.43,380.06 278.23,380.12 279.03,380.19 279.83,380.25 280.62,380.30 281.42,380.36 282.22,380.42 283.01,380.48 283.81,380.54 284.61,380.59 285.41,380.64 286.20,380.70 287.00,380.75 287.80,380.80 288.59,380.84 289.39,380.89 290.19,380.93 290.99,380.97 291.78,381.01 292.58,381.04 293.38,381.08 294.17,381.10 294.97,381.13 295.77,381.15 296.57,381.17 297.36,381.19 298.16,381.20 298.96,381.21 299.75,381.21 300.55,381.21 301.35,381.21 302.15,381.20 302.94,381.18 303.74,381.17 304.54,381.14 305.33,381.11 306.13,381.08 306.93,381.04 307.73,380.99 308.52,380.94 309.32,380.88 310.12,380.82 310.91,380.75 311.71,380.68 312.51,380.59 313.31,380.50 314.10,380.41 314.90,380.30 315.70,380.19 316.49,380.08 317.29,379.95 318.09,379.82 318.89,379.68 319.68,379.53 320.48,379.37 321.28,379.21 322.07,379.04 322.87,378.86 323.67,378.68 324.47,378.50 325.26,378.31 326.06,378.11 326.86,377.91 327.65,377.71 328.45,377.51 329.25,377.31 330.05,377.10 330.84,376.89 331.64,376.69 332.44,376.48 333.23,376.27 334.03,376.07 334.83,375.86 335.63,375.66 336.42,375.46 337.22,375.26 338.02,375.07 338.81,374.88 339.61,374.70 340.41,374.52 341.21,374.35 342.00,374.18 342.80,374.02 343.60,373.87 344.39,373.72 345.19,373.59 345.99,373.46 346.79,373.34 347.58,373.23 348.38,373.13 349.18,373.04 349.97,372.97 350.77,372.90 351.57,372.85 352.37,372.81 353.16,372.78 353.96,372.76 354.76,372.75 355.55,372.75 356.35,372.77 357.15,372.79 357.95,372.83 358.74,372.87 359.54,372.92 360.34,372.98 361.13,373.05 361.93,373.13 362.73,373.22 363.53,373.31 364.32,373.41 365.12,373.52 365.92,373.63 366.71,373.76 367.51,373.88 368.31,374.02 369.11,374.16 369.90,374.30 370.70,374.45 371.50,374.60 372.29,374.76 373.09,374.92 373.89,375.09 374.69,375.26 375.48,375.43 376.28,375.60 377.08,375.78 377.87,375.96 378.67,376.14 379.47,376.32 380.27,376.51 381.06,376.69 381.86,376.88 382.66,377.06" stroke="#3f3f3f" stroke-width="1.8"/>
<rect x="188.84" y="409.75" width="5.00" height="5.00" fill="#3f3f3f"/>
<rect x="220.73" y="382.88" width="5.00" height="5.00" fill="#3f3f3f"/>
<rect x="252.61" y="376.34" width="5.00" height="5.00" fill="#3f3f3f"/>
<rect x="284.50" y="378.25" width="5.00" height="5.00" fill="#3f3f3f"/>
<rect x="316.39" y="377.18" width="5.00" height="5.00" fill="#3f3f3f"/>
<rect x="348.27" y="370.40" width="5.00" height="5.00" fill="#3f3f3f"/>
<rect x="380.16" y="374.56" width="5.00" height="5.00" fill="#3f3f3f"/>
<polyline points="191.34,427.11 192.14,425.78 192.94,424.46 193.73,423.13 194.53,421.81 195.33,420.49 196.13,419.17 196.92,417.86 197.72,416.56 198.52,415.26 199.31,413.97 200.11,412.69 200.91,411.43 201.71,410.17 202.50,408.93 203.30,407.69 204.10,406.48 204.89,405.27 205.69,404.09 206.49,402.91 207.29,401.76 208.08,400.63 208.88,399.51 209.68,398.42 210.47,397.34 211.27,396.29 212.07,395.27 212.87,394.26 213.66,393.28 214.46,392.33 215.26,391.41 216.05,390.51 216.85,389.64 217.65,388.80 218.45,387.99 219.24,387.22 220.04,386.47 220.84,385.76 221.63,385.08 222.43,384.44 223.23,383.84 224.03,383.27 224.82,382.74 225.62,382.24 226.42,381.78 227.21,381.35 228.01,380.95 228.81,380.58 229.61,380.24 230.40,379.93 231.20,379.65 232.00,379.40 232.79,379.17 233.59,378.96 234.39,378.78 235.19,378.62 235.98,378.49 236.78,378.37 237.58,378.27 238.37,378.19 239.17,378.13 239.97,378.08 240.77,378.05 241.56,378.03 242.36,378.03 243.16,378.03 243.95,378.05 244.75,378.08 245.55,378.11 246.35,378.16 247.14,378.21 247.94,378.26 248.74,378.33 249.53,378.39 250.33,378.46 251.13,378.52 251.93,378.59 252.72,378.66 253.52,378.72 254.32,378.79 255.11,378.84 255.91,378.90 256.71,378.95 257.51,378.99 258.30,379.03 259.10,379.07 259.90,379.10 260.69,379.13 261.49,379.16 262.29,379.18 263.09,379.20 263.88,379.22 264.68,379.24 265.48,379.25 266.27,379.27 267.07,379.28 267.87,379.29 268.67,379.30 269.46,379.31 270.26,379.32 271.06,379.34 271.85,379.35 272.65,379.36 273.45,379.37 274.25,379.39 275.04,379.40 275.84,379.42 276.64,379.44 277.43,379.47 278.23,379.49 279.03,379.52 279.83,379.55 280.62,379.59 281.42,379.63 282.22,379.67 283.01,379.72 283.81,379.77 284.61,379.83 285.41,379.89 286.20,379.96 287.00,380.03 287.80,380.11 288.59,380.20 289.39,380.29 290.19,380.39 290.99,380.49 291.78,380.60 292.58,380.71 293.38,380.82 294.17,380.94 294.97,381.07 295.77,381.20 296.57,381.33 297.36,381.46 298.16,381.60 298.96,381.74 299.75,381.89 300.55,382.03 301.35,382.18 302.15,382.34 302.94,382.49 303.74,382.64 304.54,382.80 305.33,382.96 306.13,383.12 306.93,383.28 307.73,383.44 308.52,383.60 309.32,383.76 310.12,383.92 310.91,384.08 311.71,384.24 312.51,384.40 313.31,384.56 314.10,384.71 314.90,384.87 315.70,385.02 316.49,385.18 317.29,385.33 318.09,385.48 318.89,385.62 319.68,385.76 320.48,385.90 321.28,386.04 322.07,386.17 322.87,386.30 323.67,386.42 324.47,386.53 325.26,386.63 326.06,386.73 326.86,386.82 327.65,386.90 328.45,386.96 329.25,387.02 330.05,387.07 330.84,387.10 331.64,387.12 332.44,387.12 333.23,387.11 334.03,387.09 334.83,387.05 335.63,386.99 336.42,386.92 337.22,386.83 338.02,386.72 338.81,386.58 339.61,386.43 340.41,386.26 341.21,386.07 342.00,385.85 342.80,385.62 343.60,385.35 344.39,385.07 345.19,384.76 345.99,384.42 346.79,384.06 347.58,383.67 348.38,383.25 349.18,382.80 349.97,382.32 350.77,381.82 351.57,381.28 352.37,380.71 353.16,380.12 353.96,379.49 354.76,378.84 355.55,378.16 356.35,377.46 357.15,376.73 357.95,375.97 358.74,375.20 359.54,374.39 360.34,373.57 361.13,372.73 361.93,371.86 362.73,370.98 363.53,370.07 364.32,369.15 365.12,368.21 365.92,367.25 366.71,366.28 367.51,365.29 368.31,364.28 369.11,363.27 369.90,362.24 370.70,361.19 371.50,360.14 372.29,359.07 373.09,358.00 373.89,356.92 374.69,355.82 375.48,354.72 376.28,353.62 377.08,352.50 377.87,351.38 378.67,350.26 379.47,349.14 380.27,348.01 381.06,346.87 381.86,345.74 382.66,344.60" stroke="#ff2a35" stroke-width="2.2"/>
<circle cx="191.34" cy="427.11" r="2.85" fill="#ff2a35"/>
<circle cx="223.23" cy="383.84" r="2.85" fill="#ff2a35"/>
<circle cx="255.11" cy="378.84" r="2.85" fill="#ff2a35"/>
<circle cx="287.00" cy="380.03" r="2.85" fill="#ff2a35"/>
<circle cx="318.89" cy="385.62" r="2.85" fill="#ff2a35"/>
<circle cx="350.77" cy="381.82" r="2.85" fill="#ff2a35"/>
<circle cx="382.66" cy="344.60" r="2.85" fill="#ff2a35"/>
<polyline points="191.34,431.51 192.14,429.98 192.94,428.44 193.73,426.91 194.53,425.38 195.33,423.85 196.13,422.33 196.92,420.82 197.72,419.32 198.52,417.82 199.31,416.33 200.11,414.86 200.91,413.39 201.71,411.94 202.50,410.51 203.30,409.09 204.10,407.68 204.89,406.30 205.69,404.93 206.49,403.58 207.29,402.26 208.08,400.95 208.88,399.67 209.68,398.41 210.47,397.18 211.27,395.98 212.07,394.80 212.87,393.65 213.66,392.53 214.46,391.44 215.26,390.38 216.05,389.36 216.85,388.37 217.65,387.42 218.45,386.50 219.24,385.62 220.04,384.78 220.84,383.97 221.63,383.21 222.43,382.49 223.23,381.82 224.03,381.18 224.82,380.59 225.62,380.05 226.42,379.54 227.21,379.07 228.01,378.64 228.81,378.24 229.61,377.89 230.40,377.56 231.20,377.27 232.00,377.01 232.79,376.78 233.59,376.58 234.39,376.41 235.19,376.27 235.98,376.15 236.78,376.06 237.58,375.99 238.37,375.94 239.17,375.91 239.97,375.91 240.77,375.92 241.56,375.95 242.36,375.99 243.16,376.05 243.95,376.12 244.75,376.21 245.55,376.30 246.35,376.41 247.14,376.53 247.94,376.65 248.74,376.78 249.53,376.91 250.33,377.05 251.13,377.19 251.93,377.33 252.72,377.48 253.52,377.62 254.32,377.76 255.11,377.89 255.91,378.02 256.71,378.15 257.51,378.27 258.30,378.39 259.10,378.51 259.90,378.62 260.69,378.72 261.49,378.83 262.29,378.93 263.09,379.02 263.88,379.12 264.68,379.21 265.48,379.30 266.27,379.38 267.07,379.46 267.87,379.55 268.67,379.62 269.46,379.70 270.26,379.78 271.06,379.85 271.85,379.92 272.65,379.99 273.45,380.06 274.25,380.13 275.04,380.20 275.84,380.26 276.64,380.33 277.43,380.40 278.23,380.46 279.03,380.53 279.83,380.59 280.62,380.66 281.42,380.73 282.22,380.80 283.01,380.86 283.81,380.93 284.61,381.00 285.41,381.07 286.20,381.15 287.00,381.22 287.80,381.30 288.59,381.38 289.39,381.46 290.19,381.54 290.99,381.63 291.78,381.71 292.58,381.80 293.38,381.90 294.17,382.00 294.97,382.10 295.77,382.20 296.57,382.31 297.36,382.42 298.16,382.54 298.96,382.66 299.75,382.79 300.55,382.92 301.35,383.06 302.15,383.20 302.94,383.34 303.74,383.50 304.54,383.66 305.33,383.82 306.13,383.99 306.93,384.17 307.73,384.36 308.52,384.55 309.32,384.75 310.12,384.95 310.91,385.17 311.71,385.39 312.51,385.62 313.31,385.85 314.10,386.10 314.90,386.35 315.70,386.62 316.49,386.89 317.29,387.17 318.09,387.46 318.89,387.76 319.68,388.07 320.48,388.39 321.28,388.71 322.07,389.04 322.87,389.37 323.67,389.70 324.47,390.03 325.26,390.36 326.06,390.68 326.86,390.99 327.65,391.30 328.45,391.60 329.25,391.88 330.05,392.15 330.84,392.41 331.64,392.64 332.44,392.86 333.23,393.06 334.03,393.23 334.83,393.38 335.63,393.50 336.42,393.60 337.22,393.66 338.02,393.69 338.81,393.69 339.61,393.65 340.41,393.58 341.21,393.46 342.00,393.31 342.80,393.11 343.60,392.86 344.39,392.57 345.19,392.23 345.99,391.85 346.79,391.40 347.58,390.91 348.38,390.36 349.18,389.75 349.97,389.08 350.77,388.36 351.57,387.56 352.37,386.71 353.16,385.80 353.96,384.83 354.76,383.80 355.55,382.72 356.35,381.59 357.15,380.40 357.95,379.16 358.74,377.87 359.54,376.54 360.34,375.16 361.13,373.74 361.93,372.27 362.73,370.76 363.53,369.22 364.32,367.63 365.12,366.01 365.92,364.36 366.71,362.67 367.51,360.95 368.31,359.20 369.11,357.42 369.90,355.62 370.70,353.79 371.50,351.94 372.29,350.06 373.09,348.17 373.89,346.25 374.69,344.32 375.48,342.37 376.28,340.41 377.08,338.43 377.87,336.45 378.67,334.45 379.47,332.45 380.27,330.44 381.06,328.43 381.86,326.41 382.66,324.39" stroke="#0a5ef0" stroke-width="2.4"/>
<polygon points="191.34,428.32 194.64,434.12 188.04,434.12" fill="#0a5ef0"/>
<polygon points="223.23,378.63 226.53,384.43 219.93,384.43" fill="#0a5ef0"/>
<polygon points="255.11,374.70 258.41,380.50 251.81,380.50" fill="#0a5ef0"/>
<polygon points="287.00,378.03 290.30,383.83 283.70,383.83" fill="#0a5ef0"/>
<polygon points="318.89,384.57 322.19,390.37 315.59,390.37" fill="#0a5ef0"/>
<polygon points="350.77,385.17 354.07,390.97 347.47,390.97" fill="#0a5ef0"/>
<polygon points="382.66,321.20 385.96,327.00 379.36,327.00" fill="#0a5ef0"/>
<polyline points="191.34,392.28 192.14,392.19 192.94,392.11 193.73,392.02 194.53,391.93 195.33,391.84 196.13,391.76 196.92,391.67 197.72,391.58 198.52,391.49 199.31,391.40 200.11,391.31 200.91,391.22 201.71,391.12 202.50,391.03 203.30,390.93 204.10,390.84 204.89,390.74 205.69,390.64 206.49,390.54 207.29,390.44 208.08,390.34 208.88,390.23 209.68,390.13 210.47,390.02 211.27,389.91 212.07,389.80 212.87,389.69 213.66,389.57 214.46,389.45 215.26,389.33 216.05,389.21 216.85,389.09 217.65,388.96 218.45,388.83 219.24,388.70 220.04,388.57 220.84,388.43 221.63,388.29 222.43,388.14 223.23,388.00 224.03,387.85 224.82,387.70 225.62,387.54 226.42,387.39 227.21,387.23 228.01,387.07 228.81,386.91 229.61,386.74 230.40,386.58 231.20,386.42 232.00,386.25 232.79,386.09 233.59,385.92 234.39,385.76 235.19,385.59 235.98,385.43 236.78,385.27 237.58,385.10 238.37,384.94 239.17,384.79 239.97,384.63 240.77,384.48 241.56,384.33 242.36,384.18 243.16,384.03 243.95,383.89 244.75,383.75 245.55,383.62 246.35,383.49 247.14,383.37 247.94,383.25 248.74,383.13 249.53,383.02 250.33,382.91 251.13,382.81 251.93,382.72 252.72,382.63 253.52,382.55 254.32,382.48 255.11,382.41 255.91,382.35 256.71,382.30 257.51,382.25 258.30,382.21 259.10,382.18 259.90,382.15 260.69,382.13 261.49,382.12 262.29,382.11 263.09,382.10 263.88,382.10 264.68,382.11 265.48,382.12 266.27,382.14 267.07,382.16 267.87,382.19 268.67,382.21 269.46,382.25 270.26,382.29 271.06,382.33 271.85,382.37 272.65,382.42 273.45,382.47 274.25,382.52 275.04,382.58 275.84,382.63 276.64,382.70 277.43,382.76 278.23,382.82 279.03,382.89 279.83,382.96 280.62,383.03 281.42,383.10 282.22,383.17 283.01,383.24 283.81,383.31 284.61,383.38 285.41,383.45 286.20,383.53 287.00,383.60 287.80,383.67 288.59,383.74 289.39,383.81 290.19,383.89 290.99,383.96 291.78,384.03 292.58,384.10 293.38,384.17 294.17,384.24 294.97,384.31 295.77,384.38 296.57,384.45 297.36,384.52 298.16,384.59 298.96,384.66 299.75,384.73 300.55,384.80 301.35,384.87 302.15,384.94 302.94,385.01 303.74,385.08 304.54,385.16 305.33,385.23 306.13,385.30 306.93,385.38 307.73,385.45 308.52,385.53 309.32,385.60 310.12,385.68 310.91,385.75 311.71,385.83 312.51,385.91 313.31,385.99 314.10,386.07 314.90,386.15 315.70,386.23 316.49,386.32 317.29,386.40 318.09,386.49 318.89,386.57 319.68,386.66 320.48,386.75 321.28,386.83 322.07,386.92 322.87,387.00 323.67,387.08 324.47,387.15 325.26,387.22 326.06,387.29 326.86,387.34 327.65,387.39 328.45,387.42 329.25,387.45 330.05,387.47 330.84,387.47 331.64,387.46 332.44,387.44 333.23,387.40 334.03,387.35 334.83,387.28 335.63,387.19 336.42,387.08 337.22,386.95 338.02,386.81 338.81,386.64 339.61,386.45 340.41,386.23 341.21,385.99 342.00,385.73 342.80,385.43 343.60,385.12 344.39,384.77 345.19,384.39 345.99,383.99 346.79,383.55 347.58,383.08 348.38,382.58 349.18,382.04 349.97,381.47 350.77,380.87 351.57,380.22 352.37,379.54 353.16,378.83 353.96,378.08 354.76,377.30 355.55,376.49 356.35,375.64 357.15,374.77 357.95,373.87 358.74,372.93 359.54,371.97 360.34,370.99 361.13,369.98 361.93,368.94 362.73,367.88 363.53,366.79 364.32,365.69 365.12,364.56 365.92,363.41 366.71,362.25 367.51,361.06 368.31,359.86 369.11,358.64 369.90,357.41 370.70,356.16 371.50,354.89 372.29,353.62 373.09,352.33 373.89,351.03 374.69,349.72 375.48,348.41 376.28,347.08 377.08,345.75 377.87,344.41 378.67,343.06 379.47,341.71 380.27,340.36 381.06,339.00 381.86,337.64 382.66,336.28" stroke="#11a552" stroke-width="2.3" stroke-dasharray="8.2 9.4"/>
<rect x="188.84" y="389.78" width="5.00" height="5.00" fill="#11a552"/>
<rect x="220.73" y="385.50" width="5.00" height="5.00" fill="#11a552"/>
<rect x="252.61" y="379.91" width="5.00" height="5.00" fill="#11a552"/>
<rect x="284.50" y="381.10" width="5.00" height="5.00" fill="#11a552"/>
<rect x="316.39" y="384.07" width="5.00" height="5.00" fill="#11a552"/>
<rect x="348.27" y="378.37" width="5.00" height="5.00" fill="#11a552"/>
<rect x="380.16" y="333.78" width="5.00" height="5.00" fill="#11a552"/>
<polyline points="191.34,449.58 192.14,447.33 192.94,445.08 193.73,442.84 194.53,440.60 195.33,438.36 196.13,436.14 196.92,433.92 197.72,431.72 198.52,429.54 199.31,427.36 200.11,425.21 200.91,423.07 201.71,420.96 202.50,418.87 203.30,416.81 204.10,414.77 204.89,412.76 205.69,410.77 206.49,408.83 207.29,406.91 208.08,405.03 208.88,403.19 209.68,401.38 210.47,399.62 211.27,397.90 212.07,396.22 212.87,394.59 213.66,393.01 214.46,391.47 215.26,389.99 216.05,388.56 216.85,387.18 217.65,385.87 218.45,384.61 219.24,383.41 220.04,382.27 220.84,381.19 221.63,380.18 222.43,379.24 223.23,378.37 224.03,377.57 224.82,376.83 225.62,376.16 226.42,375.56 227.21,375.02 228.01,374.53 228.81,374.11 229.61,373.74 230.40,373.42 231.20,373.16 232.00,372.95 232.79,372.78 233.59,372.65 234.39,372.57 235.19,372.53 235.98,372.53 236.78,372.56 237.58,372.63 238.37,372.73 239.17,372.86 239.97,373.02 240.77,373.20 241.56,373.41 242.36,373.63 243.16,373.88 243.95,374.14 244.75,374.42 245.55,374.71 246.35,375.01 247.14,375.32 247.94,375.63 248.74,375.95 249.53,376.27 250.33,376.59 251.13,376.90 251.93,377.21 252.72,377.52 253.52,377.81 254.32,378.10 255.11,378.37 255.91,378.62 256.71,378.86 257.51,379.09 258.30,379.30 259.10,379.50 259.90,379.69 260.69,379.86 261.49,380.02 262.29,380.17 263.09,380.31 263.88,380.43 264.68,380.55 265.48,380.66 266.27,380.76 267.07,380.85 267.87,380.93 268.67,381.00 269.46,381.07 270.26,381.13 271.06,381.19 271.85,381.24 272.65,381.28 273.45,381.32 274.25,381.36 275.04,381.39 275.84,381.42 276.64,381.45 277.43,381.48 278.23,381.50 279.03,381.52 279.83,381.55 280.62,381.57 281.42,381.59 282.22,381.62 283.01,381.64 283.81,381.67 284.61,381.70 285.41,381.74 286.20,381.77 287.00,381.82 287.80,381.86 288.59,381.91 289.39,381.97 290.19,382.03 290.99,382.10 291.78,382.17 292.58,382.24 293.38,382.33 294.17,382.41 294.97,382.51 295.77,382.60 296.57,382.71 297.36,382.82 298.16,382.93 298.96,383.06 299.75,383.18 300.55,383.32 301.35,383.46 302.15,383.61 302.94,383.76 303.74,383.92 304.54,384.09 305.33,384.26 306.13,384.44 306.93,384.63 307.73,384.82 308.52,385.03 309.32,385.23 310.12,385.45 310.91,385.68 311.71,385.91 312.51,386.15 313.31,386.39 314.10,386.65 314.90,386.91 315.70,387.19 316.49,387.47 317.29,387.75 318.09,388.05 318.89,388.36 319.68,388.67 320.48,388.99 321.28,389.31 322.07,389.64 322.87,389.97 323.67,390.29 324.47,390.61 325.26,390.93 326.06,391.24 326.86,391.54 327.65,391.82 328.45,392.09 329.25,392.35 330.05,392.58 330.84,392.80 331.64,393.00 332.44,393.16 333.23,393.31 334.03,393.42 334.83,393.50 335.63,393.55 336.42,393.57 337.22,393.55 338.02,393.49 338.81,393.39 339.61,393.24 340.41,393.05 341.21,392.81 342.00,392.52 342.80,392.18 343.60,391.79 344.39,391.34 345.19,390.84 345.99,390.27 346.79,389.64 347.58,388.95 348.38,388.19 349.18,387.37 349.97,386.47 350.77,385.50 351.57,384.46 352.37,383.34 353.16,382.16 353.96,380.90 354.76,379.58 355.55,378.20 356.35,376.75 357.15,375.24 357.95,373.67 358.74,372.04 359.54,370.35 360.34,368.62 361.13,366.83 361.93,364.99 362.73,363.10 363.53,361.16 364.32,359.18 365.12,357.16 365.92,355.10 366.71,352.99 367.51,350.85 368.31,348.68 369.11,346.47 369.90,344.23 370.70,341.96 371.50,339.66 372.29,337.34 373.09,334.99 373.89,332.62 374.69,330.23 375.48,327.82 376.28,325.40 377.08,322.96 377.87,320.50 378.67,318.04 379.47,315.56 380.27,313.08 381.06,310.59 381.86,308.10 382.66,305.61" stroke="#c466e8" stroke-width="2.2" stroke-dasharray="2.7 8.4"/>
<circle cx="191.34" cy="449.58" r="2.85" fill="#c466e8"/>
<circle cx="223.23" cy="378.37" r="2.85" fill="#c466e8"/>
<circle cx="255.11" cy="378.37" r="2.85" fill="#c466e8"/>
<circle cx="287.00" cy="381.82" r="2.85" fill="#c466e8"/>
<circle cx="318.89" cy="388.36" r="2.85" fill="#c466e8"/>
<circle cx="350.77" cy="385.50" r="2.85" fill="#c466e8"/>
<circle cx="382.66" cy="305.61" r="2.85" fill="#c466e8"/>
<polyline points="191.34,491.19 192.14,488.18 192.94,485.18 193.73,482.17 194.53,479.17 195.33,476.18 196.13,473.20 196.92,470.23 197.72,467.27 198.52,464.33 199.31,461.40 200.11,458.50 200.91,455.61 201.71,452.75 202.50,449.92 203.30,447.11 204.10,444.33 204.89,441.58 205.69,438.86 206.49,436.18 207.29,433.53 208.08,430.92 208.88,428.36 209.68,425.83 210.47,423.35 211.27,420.91 212.07,418.53 212.87,416.19 213.66,413.90 214.46,411.67 215.26,409.49 216.05,407.37 216.85,405.32 217.65,403.32 218.45,401.38 219.24,399.51 220.04,397.71 220.84,395.98 221.63,394.31 222.43,392.72 223.23,391.21 224.03,389.77 224.82,388.41 225.62,387.12 226.42,385.90 227.21,384.75 228.01,383.66 228.81,382.65 229.61,381.69 230.40,380.80 231.20,379.98 232.00,379.20 232.79,378.49 233.59,377.83 234.39,377.23 235.19,376.67 235.98,376.17 236.78,375.71 237.58,375.30 238.37,374.94 239.17,374.62 239.97,374.33 240.77,374.09 241.56,373.88 242.36,373.71 243.16,373.58 243.95,373.47 244.75,373.40 245.55,373.35 246.35,373.33 247.14,373.33 247.94,373.36 248.74,373.41 249.53,373.47 250.33,373.56 251.13,373.66 251.93,373.77 252.72,373.90 253.52,374.03 254.32,374.18 255.11,374.33 255.91,374.48 256.71,374.64 257.51,374.81 258.30,374.98 259.10,375.15 259.90,375.32 260.69,375.50 261.49,375.68 262.29,375.86 263.09,376.05 263.88,376.23 264.68,376.42 265.48,376.61 266.27,376.80 267.07,376.98 267.87,377.17 268.67,377.36 269.46,377.55 270.26,377.73 271.06,377.92 271.85,378.10 272.65,378.28 273.45,378.45 274.25,378.63 275.04,378.80 275.84,378.97 276.64,379.13 277.43,379.29 278.23,379.44 279.03,379.59 279.83,379.74 280.62,379.88 281.42,380.01 282.22,380.14 283.01,380.26 283.81,380.37 284.61,380.48 285.41,380.57 286.20,380.66 287.00,380.75 287.80,380.82 288.59,380.89 289.39,380.95 290.19,381.00 290.99,381.05 291.78,381.09 292.58,381.13 293.38,381.16 294.17,381.20 294.97,381.23 295.77,381.26 296.57,381.29 297.36,381.33 298.16,381.36 298.96,381.40 299.75,381.44 300.55,381.49 301.35,381.54 302.15,381.60 302.94,381.66 303.74,381.74 304.54,381.82 305.33,381.90 306.13,382.00 306.93,382.11 307.73,382.24 308.52,382.37 309.32,382.52 310.12,382.68 310.91,382.86 311.71,383.05 312.51,383.26 313.31,383.48 314.10,383.73 314.90,383.99 315.70,384.27 316.49,384.58 317.29,384.90 318.09,385.25 318.89,385.62 319.68,386.01 320.48,386.43 321.28,386.86 322.07,387.31 322.87,387.77 323.67,388.23 324.47,388.71 325.26,389.18 326.06,389.66 326.86,390.13 327.65,390.59 328.45,391.05 329.25,391.49 330.05,391.92 330.84,392.33 331.64,392.72 332.44,393.09 333.23,393.42 334.03,393.73 334.83,394.00 335.63,394.24 336.42,394.43 337.22,394.59 338.02,394.69 338.81,394.75 339.61,394.76 340.41,394.72 341.21,394.61 342.00,394.45 342.80,394.22 343.60,393.92 344.39,393.56 345.19,393.12 345.99,392.60 346.79,392.01 347.58,391.34 348.38,390.58 349.18,389.73 349.97,388.79 350.77,387.76 351.57,386.63 352.37,385.41 353.16,384.10 353.96,382.69 354.76,381.20 355.55,379.63 356.35,377.97 357.15,376.23 357.95,374.41 358.74,372.52 359.54,370.56 360.34,368.52 361.13,366.42 361.93,364.26 362.73,362.03 363.53,359.73 364.32,357.39 365.12,354.98 365.92,352.52 366.71,350.01 367.51,347.46 368.31,344.85 369.11,342.21 369.90,339.52 370.70,336.79 371.50,334.03 372.29,331.23 373.09,328.40 373.89,325.55 374.69,322.66 375.48,319.75 376.28,316.82 377.08,313.87 377.87,310.91 378.67,307.93 379.47,304.93 380.27,301.93 381.06,298.92 381.86,295.91 382.66,292.89" stroke="#e39a0c" stroke-width="2.2" stroke-dasharray="2 1.55"/>
<polygon points="191.34,488.00 194.64,493.80 188.04,493.80" fill="#e39a0c"/>
<polygon points="223.23,388.02 226.53,393.82 219.93,393.82" fill="#e39a0c"/>
<polygon points="255.11,371.14 258.41,376.94 251.81,376.94" fill="#e39a0c"/>
<polygon points="287.00,377.56 290.30,383.36 283.70,383.36" fill="#e39a0c"/>
<polygon points="318.89,382.43 322.19,388.23 315.59,388.23" fill="#e39a0c"/>
<polygon points="350.77,384.57 354.07,390.37 347.47,390.37" fill="#e39a0c"/>
<polygon points="382.66,289.70 385.96,295.50 379.36,295.50" fill="#e39a0c"/>
</g>
<rect x="175.4" y="287.3" width="223.20000000000002" height="214.0" fill="none" stroke="#1a1a1a" stroke-width="1.4"/>
<path d="M191.34,501.30v-4.6M223.23,501.30v-4.6M255.11,501.30v-4.6M287.00,501.30v-4.6M318.89,501.30v-4.6M350.77,501.30v-4.6M382.66,501.30v-4.6M175.40,477.52h4.8M175.40,453.74h4.8M175.40,429.97h4.8M175.40,406.19h4.8M175.40,382.41h4.8M175.40,358.63h4.8M175.40,334.86h4.8M175.40,311.08h4.8M175.40,489.41h2.6M175.40,465.63h2.6M175.40,441.86h2.6M175.40,418.08h2.6M175.40,394.30h2.6M175.40,370.52h2.6M175.40,346.74h2.6M175.40,322.97h2.6M175.40,299.19h2.6" stroke="#1a1a1a" stroke-width="1.2" fill="none"/>
<text x="191.34" y="517.20" text-anchor="middle" class="tl">0.0</text>
<text x="223.23" y="517.20" text-anchor="middle" class="tl">0.1</text>
<text x="255.11" y="517.20" text-anchor="middle" class="tl">0.2</text>
<text x="287.00" y="517.20" text-anchor="middle" class="tl">0.3</text>
<text x="318.89" y="517.20" text-anchor="middle" class="tl">0.4</text>
<text x="350.77" y="517.20" text-anchor="middle" class="tl">0.5</text>
<text x="382.66" y="517.20" text-anchor="middle" class="tl">0.6</text>
<text x="169.90" y="504.60" text-anchor="end" class="tl">-10</text>
<text x="169.90" y="480.82" text-anchor="end" class="tl">-8</text>
<text x="169.90" y="457.04" text-anchor="end" class="tl">-6</text>
<text x="169.90" y="433.27" text-anchor="end" class="tl">-4</text>
<text x="169.90" y="409.49" text-anchor="end" class="tl">-2</text>
<text x="169.90" y="385.71" text-anchor="end" class="tl">0</text>
<text x="169.90" y="361.93" text-anchor="end" class="tl">2</text>
<text x="169.90" y="338.16" text-anchor="end" class="tl">4</text>
<text x="169.90" y="314.38" text-anchor="end" class="tl">6</text>
<text x="169.90" y="290.60" text-anchor="end" class="tl">8</text>
<text x="288.30" y="529.00" text-anchor="middle" class="al">x/mm</text>
<text transform="translate(158.30,390.00) rotate(-90)" text-anchor="middle" class="yl">S<tspan class="sub" dy="2.6">22</tspan><tspan dy="-2.6">/MPa</tspan></text>
<text x="186.60" y="301.80" class="lam" font-size="11.9">λ=50μm</text>
<text x="295.40" y="448.40" class="lg">Creep</text>
<text x="327.10" y="448.40" class="lg">CP</text>
<line x1="294.80" y1="457.80" x2="319.30" y2="457.80" stroke="#3f3f3f" stroke-width="1.6"/>
<rect x="304.25" y="455.05" width="5.50" height="5.50" fill="#3f3f3f"/>
<line x1="322.80" y1="457.80" x2="347.80" y2="457.80" stroke="#11a552" stroke-width="2.3" stroke-dasharray="8.2 9.4"/>
<rect x="332.55" y="455.05" width="5.50" height="5.50" fill="#11a552"/>
<text x="354.40" y="461.20" class="lg2">h<tspan class="lsub" dy="2.6" textLength="13.6" lengthAdjust="spacingAndGlyphs">TGO</tspan><tspan dy="-2.6">=1μm</tspan></text>
<line x1="294.80" y1="472.50" x2="319.30" y2="472.50" stroke="#ff2a35" stroke-width="1.6"/>
<circle cx="307.00" cy="472.50" r="3.14" fill="#ff2a35"/>
<line x1="322.80" y1="472.50" x2="347.80" y2="472.50" stroke="#c466e8" stroke-width="2.2" stroke-dasharray="2.7 8.4"/>
<circle cx="335.30" cy="472.50" r="3.14" fill="#c466e8"/>
<text x="354.40" y="475.90" class="lg2">h<tspan class="lsub" dy="2.6" textLength="13.6" lengthAdjust="spacingAndGlyphs">TGO</tspan><tspan dy="-2.6">=5μm</tspan></text>
<line x1="294.80" y1="487.20" x2="319.30" y2="487.20" stroke="#0a5ef0" stroke-width="1.6"/>
<polygon points="307.00,483.69 310.63,490.07 303.37,490.07" fill="#0a5ef0"/>
<line x1="322.80" y1="487.20" x2="347.80" y2="487.20" stroke="#e39a0c" stroke-width="2.2" stroke-dasharray="2 1.55"/>
<polygon points="335.30,483.69 338.93,490.07 331.67,490.07" fill="#e39a0c"/>
<text x="354.40" y="490.60" class="lg2">h<tspan class="lsub" dy="2.6" textLength="13.6" lengthAdjust="spacingAndGlyphs">TGO</tspan><tspan dy="-2.6">=8μm</tspan></text>
<text x="282.00" y="551.60" text-anchor="middle" class="cap">(<tspan font-weight="bold">c</tspan>)</text>
</svg>
</body></html>
